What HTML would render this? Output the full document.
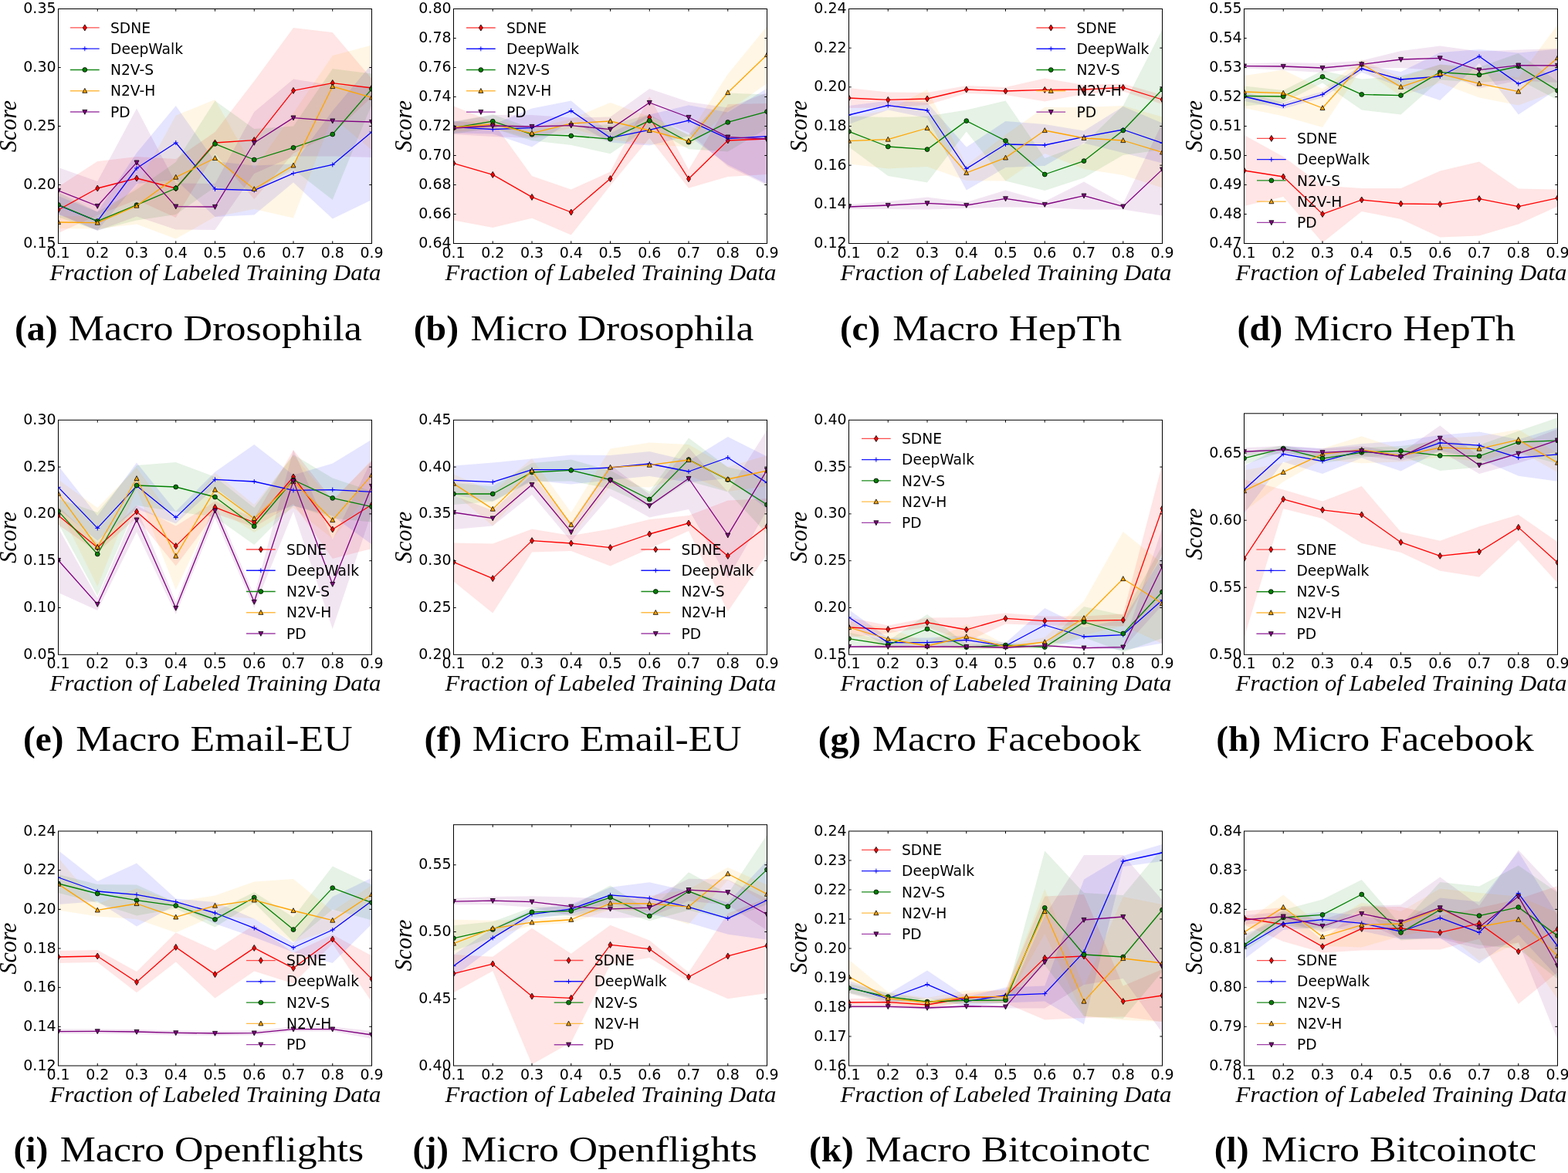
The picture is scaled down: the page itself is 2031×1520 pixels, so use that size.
<!DOCTYPE html><html><head><meta charset="utf-8"><style>
html,body{margin:0;padding:0;background:#fff;overflow:hidden}
svg{display:block}
.tl{font-family:"DejaVu Sans",sans-serif;font-size:19px;fill:#000}
.lg{font-family:"DejaVu Sans",sans-serif;font-size:18.7px;fill:#000}
.xl{font-family:"Liberation Serif",serif;font-style:italic;font-size:29.5px;fill:#000}
.yl{font-family:"Liberation Serif",serif;font-style:italic;font-size:32px;fill:#000}
.cap{font-family:"Liberation Serif",serif;font-size:45.5px;fill:#000}
.capb{font-family:"Liberation Serif",serif;font-weight:bold;font-size:45.5px;fill:#000}
</style></head><body><svg width="2031" height="1520" viewBox="0 0 2031 1520">
<rect width="2031" height="1520" fill="#fff"/>
<defs><clipPath id="c0"><rect x="75.50" y="11.50" width="406.00" height="304.00"/></clipPath><clipPath id="c1"><rect x="587.50" y="11.50" width="406.00" height="304.00"/></clipPath><clipPath id="c2"><rect x="1099.50" y="11.50" width="406.00" height="304.00"/></clipPath><clipPath id="c3"><rect x="1611.50" y="11.50" width="406.00" height="304.00"/></clipPath><clipPath id="c4"><rect x="75.50" y="544.30" width="406.00" height="304.00"/></clipPath><clipPath id="c5"><rect x="587.50" y="544.30" width="406.00" height="304.00"/></clipPath><clipPath id="c6"><rect x="1099.50" y="544.30" width="406.00" height="304.00"/></clipPath><clipPath id="c7"><rect x="1611.50" y="535.80" width="406.00" height="312.50"/></clipPath><clipPath id="c8"><rect x="75.50" y="1077.00" width="406.00" height="304.00"/></clipPath><clipPath id="c9"><rect x="587.50" y="1068.70" width="406.00" height="312.30"/></clipPath><clipPath id="c10"><rect x="1099.50" y="1077.00" width="406.00" height="304.00"/></clipPath><clipPath id="c11"><rect x="1611.50" y="1077.00" width="406.00" height="304.00"/></clipPath></defs>
<g clip-path="url(#c0)">
<polygon points="75.50,242.00 126.25,209.00 177.00,203.00 227.75,206.00 278.50,171.00 329.25,105.00 380.00,36.00 430.75,42.00 481.50,102.00 481.50,126.00 430.75,173.20 380.00,198.80 329.25,258.20 278.50,199.00 227.75,282.00 177.00,259.00 126.25,279.00 75.50,302.00" fill="#ff0000" fill-opacity="0.1"/>
<polygon points="75.50,254.00 126.25,274.60 177.00,198.00 227.75,137.00 278.50,209.00 329.25,214.60 380.00,212.60 430.75,143.40 481.50,83.00 481.50,259.00 430.75,283.40 380.00,236.60 329.25,278.60 278.50,281.00 227.75,233.00 177.00,238.00 126.25,298.60 75.50,278.00" fill="#0000ff" fill-opacity="0.1"/>
<polygon points="75.50,249.40 126.25,274.60 177.00,245.60 227.75,210.00 278.50,130.40 329.25,167.00 380.00,163.40 430.75,89.00 481.50,95.40 481.50,135.40 430.75,259.00 380.00,219.40 329.25,247.00 278.50,242.40 227.75,278.00 177.00,285.60 126.25,298.60 75.50,281.40" fill="#008000" fill-opacity="0.1"/>
<polygon points="75.50,280.00 126.25,280.60 177.00,242.60 227.75,149.60 278.50,129.00 329.25,219.00 380.00,146.40 430.75,72.00 481.50,58.40 481.50,194.40 430.75,152.00 380.00,282.40 329.25,271.00 278.50,281.00 227.75,309.60 177.00,290.60 126.25,296.60 75.50,296.00" fill="#ffa500" fill-opacity="0.1"/>
<polygon points="75.50,217.00 126.25,235.00 177.00,140.60 227.75,237.60 278.50,238.00 329.25,145.00 380.00,102.60 430.75,110.60 481.50,112.00 481.50,204.00 430.75,202.60 380.00,202.60 329.25,225.00 278.50,298.00 227.75,297.60 177.00,280.60 126.25,299.00 75.50,277.00" fill="#800080" fill-opacity="0.1"/>
<polyline points="75.50,272.00 126.25,244.00 177.00,231.00 227.75,244.00 278.50,185.00 329.25,181.60 380.00,117.40 430.75,107.60 481.50,114.00" fill="none" stroke="#ff0000" stroke-width="1.3" stroke-linejoin="round"/>
<path d="M75.50,268.00L78.00,272.00L75.50,276.00L73.00,272.00Z" fill="#ff0000" stroke="#000" stroke-width="0.8"/>
<path d="M126.25,240.00L128.75,244.00L126.25,248.00L123.75,244.00Z" fill="#ff0000" stroke="#000" stroke-width="0.8"/>
<path d="M177.00,227.00L179.50,231.00L177.00,235.00L174.50,231.00Z" fill="#ff0000" stroke="#000" stroke-width="0.8"/>
<path d="M227.75,240.00L230.25,244.00L227.75,248.00L225.25,244.00Z" fill="#ff0000" stroke="#000" stroke-width="0.8"/>
<path d="M278.50,181.00L281.00,185.00L278.50,189.00L276.00,185.00Z" fill="#ff0000" stroke="#000" stroke-width="0.8"/>
<path d="M329.25,177.60L331.75,181.60L329.25,185.60L326.75,181.60Z" fill="#ff0000" stroke="#000" stroke-width="0.8"/>
<path d="M380.00,113.40L382.50,117.40L380.00,121.40L377.50,117.40Z" fill="#ff0000" stroke="#000" stroke-width="0.8"/>
<path d="M430.75,103.60L433.25,107.60L430.75,111.60L428.25,107.60Z" fill="#ff0000" stroke="#000" stroke-width="0.8"/>
<path d="M481.50,110.00L484.00,114.00L481.50,118.00L479.00,114.00Z" fill="#ff0000" stroke="#000" stroke-width="0.8"/>
<polyline points="75.50,266.00 126.25,286.60 177.00,218.00 227.75,185.00 278.50,245.00 329.25,246.60 380.00,224.60 430.75,213.40 481.50,171.00" fill="none" stroke="#0000ff" stroke-width="1.3" stroke-linejoin="round"/>
<path d="M72.50,266.00H78.50M75.50,263.00V269.00" stroke="#0000ff" stroke-width="1" fill="none"/>
<path d="M123.25,286.60H129.25M126.25,283.60V289.60" stroke="#0000ff" stroke-width="1" fill="none"/>
<path d="M174.00,218.00H180.00M177.00,215.00V221.00" stroke="#0000ff" stroke-width="1" fill="none"/>
<path d="M224.75,185.00H230.75M227.75,182.00V188.00" stroke="#0000ff" stroke-width="1" fill="none"/>
<path d="M275.50,245.00H281.50M278.50,242.00V248.00" stroke="#0000ff" stroke-width="1" fill="none"/>
<path d="M326.25,246.60H332.25M329.25,243.60V249.60" stroke="#0000ff" stroke-width="1" fill="none"/>
<path d="M377.00,224.60H383.00M380.00,221.60V227.60" stroke="#0000ff" stroke-width="1" fill="none"/>
<path d="M427.75,213.40H433.75M430.75,210.40V216.40" stroke="#0000ff" stroke-width="1" fill="none"/>
<path d="M478.50,171.00H484.50M481.50,168.00V174.00" stroke="#0000ff" stroke-width="1" fill="none"/>
<polyline points="75.50,265.40 126.25,286.60 177.00,265.60 227.75,244.00 278.50,186.40 329.25,207.00 380.00,191.40 430.75,174.00 481.50,115.40" fill="none" stroke="#008000" stroke-width="1.3" stroke-linejoin="round"/>
<circle cx="75.50" cy="265.40" r="2.9" fill="#008000" stroke="#000" stroke-width="0.8"/>
<circle cx="126.25" cy="286.60" r="2.9" fill="#008000" stroke="#000" stroke-width="0.8"/>
<circle cx="177.00" cy="265.60" r="2.9" fill="#008000" stroke="#000" stroke-width="0.8"/>
<circle cx="227.75" cy="244.00" r="2.9" fill="#008000" stroke="#000" stroke-width="0.8"/>
<circle cx="278.50" cy="186.40" r="2.9" fill="#008000" stroke="#000" stroke-width="0.8"/>
<circle cx="329.25" cy="207.00" r="2.9" fill="#008000" stroke="#000" stroke-width="0.8"/>
<circle cx="380.00" cy="191.40" r="2.9" fill="#008000" stroke="#000" stroke-width="0.8"/>
<circle cx="430.75" cy="174.00" r="2.9" fill="#008000" stroke="#000" stroke-width="0.8"/>
<circle cx="481.50" cy="115.40" r="2.9" fill="#008000" stroke="#000" stroke-width="0.8"/>
<polyline points="75.50,288.00 126.25,288.60 177.00,266.60 227.75,229.60 278.50,205.00 329.25,245.00 380.00,214.40 430.75,112.00 481.50,126.40" fill="none" stroke="#ffa500" stroke-width="1.3" stroke-linejoin="round"/>
<path d="M75.50,284.70L78.50,290.60L72.50,290.60Z" fill="#ffa500" stroke="#000" stroke-width="0.8"/>
<path d="M126.25,285.30L129.25,291.20L123.25,291.20Z" fill="#ffa500" stroke="#000" stroke-width="0.8"/>
<path d="M177.00,263.30L180.00,269.20L174.00,269.20Z" fill="#ffa500" stroke="#000" stroke-width="0.8"/>
<path d="M227.75,226.30L230.75,232.20L224.75,232.20Z" fill="#ffa500" stroke="#000" stroke-width="0.8"/>
<path d="M278.50,201.70L281.50,207.60L275.50,207.60Z" fill="#ffa500" stroke="#000" stroke-width="0.8"/>
<path d="M329.25,241.70L332.25,247.60L326.25,247.60Z" fill="#ffa500" stroke="#000" stroke-width="0.8"/>
<path d="M380.00,211.10L383.00,217.00L377.00,217.00Z" fill="#ffa500" stroke="#000" stroke-width="0.8"/>
<path d="M430.75,108.70L433.75,114.60L427.75,114.60Z" fill="#ffa500" stroke="#000" stroke-width="0.8"/>
<path d="M481.50,123.10L484.50,129.00L478.50,129.00Z" fill="#ffa500" stroke="#000" stroke-width="0.8"/>
<polyline points="75.50,247.00 126.25,267.00 177.00,210.60 227.75,267.60 278.50,268.00 329.25,185.00 380.00,152.60 430.75,156.60 481.50,158.00" fill="none" stroke="#800080" stroke-width="1.3" stroke-linejoin="round"/>
<path d="M75.50,250.30L78.50,244.40L72.50,244.40Z" fill="#800080" stroke="#000" stroke-width="0.8"/>
<path d="M126.25,270.30L129.25,264.40L123.25,264.40Z" fill="#800080" stroke="#000" stroke-width="0.8"/>
<path d="M177.00,213.90L180.00,208.00L174.00,208.00Z" fill="#800080" stroke="#000" stroke-width="0.8"/>
<path d="M227.75,270.90L230.75,265.00L224.75,265.00Z" fill="#800080" stroke="#000" stroke-width="0.8"/>
<path d="M278.50,271.30L281.50,265.40L275.50,265.40Z" fill="#800080" stroke="#000" stroke-width="0.8"/>
<path d="M329.25,188.30L332.25,182.40L326.25,182.40Z" fill="#800080" stroke="#000" stroke-width="0.8"/>
<path d="M380.00,155.90L383.00,150.00L377.00,150.00Z" fill="#800080" stroke="#000" stroke-width="0.8"/>
<path d="M430.75,159.90L433.75,154.00L427.75,154.00Z" fill="#800080" stroke="#000" stroke-width="0.8"/>
<path d="M481.50,161.30L484.50,155.40L478.50,155.40Z" fill="#800080" stroke="#000" stroke-width="0.8"/>
</g>
<rect x="75.50" y="11.50" width="406.00" height="304.00" fill="none" stroke="#000" stroke-width="1"/>
<path d="M126.25,315.50v-3.2M126.25,11.50v3.2M177.00,315.50v-3.2M177.00,11.50v3.2M227.75,315.50v-3.2M227.75,11.50v3.2M278.50,315.50v-3.2M278.50,11.50v3.2M329.25,315.50v-3.2M329.25,11.50v3.2M380.00,315.50v-3.2M380.00,11.50v3.2M430.75,315.50v-3.2M430.75,11.50v3.2M75.50,239.50h3.2M481.50,239.50h-3.2M75.50,163.50h3.2M481.50,163.50h-3.2M75.50,87.50h3.2M481.50,87.50h-3.2" stroke="#000" stroke-width="1" fill="none"/>
<text x="72.60" y="321.00" class="tl" text-anchor="end">0.15</text>
<text x="72.60" y="245.00" class="tl" text-anchor="end">0.20</text>
<text x="72.60" y="169.00" class="tl" text-anchor="end">0.25</text>
<text x="72.60" y="93.00" class="tl" text-anchor="end">0.30</text>
<text x="72.60" y="17.00" class="tl" text-anchor="end">0.35</text>
<text x="75.50" y="333.50" class="tl" text-anchor="middle">0.1</text>
<text x="126.25" y="333.50" class="tl" text-anchor="middle">0.2</text>
<text x="177.00" y="333.50" class="tl" text-anchor="middle">0.3</text>
<text x="227.75" y="333.50" class="tl" text-anchor="middle">0.4</text>
<text x="278.50" y="333.50" class="tl" text-anchor="middle">0.5</text>
<text x="329.25" y="333.50" class="tl" text-anchor="middle">0.6</text>
<text x="380.00" y="333.50" class="tl" text-anchor="middle">0.7</text>
<text x="430.75" y="333.50" class="tl" text-anchor="middle">0.8</text>
<text x="481.50" y="333.50" class="tl" text-anchor="middle">0.9</text>
<text x="64.60" y="362.50" class="xl" textLength="428.9" lengthAdjust="spacingAndGlyphs">Fraction of Labeled Training Data</text>
<text transform="translate(20.50,163.50) rotate(-90)" class="yl" text-anchor="middle" textLength="67" lengthAdjust="spacingAndGlyphs">Score</text>
<path d="M91.00,35.90h37.7" stroke="#ff4d4d" stroke-width="1.4" fill="none"/>
<path d="M109.85,31.90L112.35,35.90L109.85,39.90L107.35,35.90Z" fill="#ff0000" stroke="#000" stroke-width="0.8"/>
<text x="143.00" y="42.50" class="lg">SDNE</text>
<path d="M91.00,63.17h37.7" stroke="#1a1aff" stroke-width="1.4" fill="none"/>
<path d="M106.85,63.17H112.85M109.85,60.17V66.17" stroke="#0000ff" stroke-width="1" fill="none"/>
<text x="143.00" y="69.77" class="lg">DeepWalk</text>
<path d="M91.00,90.44h37.7" stroke="#1a8a1a" stroke-width="1.4" fill="none"/>
<circle cx="109.85" cy="90.44" r="2.9" fill="#008000" stroke="#000" stroke-width="0.8"/>
<text x="143.00" y="97.04" class="lg">N2V-S</text>
<path d="M91.00,117.71h37.7" stroke="#ffbb44" stroke-width="1.4" fill="none"/>
<path d="M109.85,114.41L112.85,120.31L106.85,120.31Z" fill="#ffa500" stroke="#000" stroke-width="0.8"/>
<text x="143.00" y="124.31" class="lg">N2V-H</text>
<path d="M91.00,144.98h37.7" stroke="#a040a8" stroke-width="1.4" fill="none"/>
<path d="M109.85,148.28L112.85,142.38L106.85,142.38Z" fill="#800080" stroke="#000" stroke-width="0.8"/>
<text x="143.00" y="151.58" class="lg">PD</text>
<text x="18.94" y="441.00" class="capb" textLength="55.81" lengthAdjust="spacingAndGlyphs">(a)</text>
<text x="88.79" y="441.00" class="cap" textLength="380.02" lengthAdjust="spacingAndGlyphs">Macro Drosophila</text>
<g clip-path="url(#c1)">
<polygon points="587.50,137.60 638.25,157.80 689.00,228.00 739.75,245.40 790.50,222.60 841.25,125.00 892.00,219.80 942.75,135.00 993.50,134.00 993.50,226.00 942.75,229.00 892.00,243.80 841.25,179.00 790.50,240.60 739.75,304.60 689.00,282.80 638.25,295.00 587.50,285.60" fill="#ff0000" fill-opacity="0.1"/>
<polygon points="587.50,156.60 638.25,161.60 689.00,140.60 739.75,130.60 790.50,172.60 841.25,148.40 892.00,136.20 942.75,145.60 993.50,114.60 993.50,238.60 942.75,213.60 892.00,176.20 841.25,188.40 790.50,184.60 739.75,156.60 689.00,190.60 638.25,173.60 587.50,172.60" fill="#0000ff" fill-opacity="0.1"/>
<polygon points="587.50,157.60 638.25,148.20 689.00,166.20 739.75,164.00 790.50,161.20 841.25,148.40 892.00,175.20 942.75,120.40 993.50,122.60 993.50,166.60 942.75,196.40 892.00,193.20 841.25,164.40 790.50,199.20 739.75,188.00 689.00,182.20 638.25,166.20 587.50,173.60" fill="#008000" fill-opacity="0.1"/>
<polygon points="587.50,159.00 638.25,155.00 689.00,166.60 739.75,154.00 790.50,133.00 841.25,151.00 892.00,174.60 942.75,96.00 993.50,34.00 993.50,108.00 942.75,144.00 892.00,190.60 841.25,187.00 790.50,181.00 739.75,166.00 689.00,178.60 638.25,167.00 587.50,171.00" fill="#ffa500" fill-opacity="0.1"/>
<polygon points="587.50,158.00 638.25,149.00 689.00,149.00 739.75,152.60 790.50,151.60 841.25,115.00 892.00,132.00 942.75,139.60 993.50,120.00 993.50,240.00 942.75,215.60 892.00,172.00 841.25,151.00 790.50,183.60 739.75,172.60 689.00,179.00 638.25,177.00 587.50,174.00" fill="#800080" fill-opacity="0.1"/>
<polyline points="587.50,211.60 638.25,226.40 689.00,255.40 739.75,275.00 790.50,231.60 841.25,152.00 892.00,231.80 942.75,182.00 993.50,180.00" fill="none" stroke="#ff0000" stroke-width="1.3" stroke-linejoin="round"/>
<path d="M587.50,207.60L590.00,211.60L587.50,215.60L585.00,211.60Z" fill="#ff0000" stroke="#000" stroke-width="0.8"/>
<path d="M638.25,222.40L640.75,226.40L638.25,230.40L635.75,226.40Z" fill="#ff0000" stroke="#000" stroke-width="0.8"/>
<path d="M689.00,251.40L691.50,255.40L689.00,259.40L686.50,255.40Z" fill="#ff0000" stroke="#000" stroke-width="0.8"/>
<path d="M739.75,271.00L742.25,275.00L739.75,279.00L737.25,275.00Z" fill="#ff0000" stroke="#000" stroke-width="0.8"/>
<path d="M790.50,227.60L793.00,231.60L790.50,235.60L788.00,231.60Z" fill="#ff0000" stroke="#000" stroke-width="0.8"/>
<path d="M841.25,148.00L843.75,152.00L841.25,156.00L838.75,152.00Z" fill="#ff0000" stroke="#000" stroke-width="0.8"/>
<path d="M892.00,227.80L894.50,231.80L892.00,235.80L889.50,231.80Z" fill="#ff0000" stroke="#000" stroke-width="0.8"/>
<path d="M942.75,178.00L945.25,182.00L942.75,186.00L940.25,182.00Z" fill="#ff0000" stroke="#000" stroke-width="0.8"/>
<path d="M993.50,176.00L996.00,180.00L993.50,184.00L991.00,180.00Z" fill="#ff0000" stroke="#000" stroke-width="0.8"/>
<polyline points="587.50,164.60 638.25,167.60 689.00,165.60 739.75,143.60 790.50,178.60 841.25,168.40 892.00,156.20 942.75,179.60 993.50,176.60" fill="none" stroke="#0000ff" stroke-width="1.3" stroke-linejoin="round"/>
<path d="M584.50,164.60H590.50M587.50,161.60V167.60" stroke="#0000ff" stroke-width="1" fill="none"/>
<path d="M635.25,167.60H641.25M638.25,164.60V170.60" stroke="#0000ff" stroke-width="1" fill="none"/>
<path d="M686.00,165.60H692.00M689.00,162.60V168.60" stroke="#0000ff" stroke-width="1" fill="none"/>
<path d="M736.75,143.60H742.75M739.75,140.60V146.60" stroke="#0000ff" stroke-width="1" fill="none"/>
<path d="M787.50,178.60H793.50M790.50,175.60V181.60" stroke="#0000ff" stroke-width="1" fill="none"/>
<path d="M838.25,168.40H844.25M841.25,165.40V171.40" stroke="#0000ff" stroke-width="1" fill="none"/>
<path d="M889.00,156.20H895.00M892.00,153.20V159.20" stroke="#0000ff" stroke-width="1" fill="none"/>
<path d="M939.75,179.60H945.75M942.75,176.60V182.60" stroke="#0000ff" stroke-width="1" fill="none"/>
<path d="M990.50,176.60H996.50M993.50,173.60V179.60" stroke="#0000ff" stroke-width="1" fill="none"/>
<polyline points="587.50,165.60 638.25,157.20 689.00,174.20 739.75,176.00 790.50,180.20 841.25,156.40 892.00,184.20 942.75,158.40 993.50,144.60" fill="none" stroke="#008000" stroke-width="1.3" stroke-linejoin="round"/>
<circle cx="587.50" cy="165.60" r="2.9" fill="#008000" stroke="#000" stroke-width="0.8"/>
<circle cx="638.25" cy="157.20" r="2.9" fill="#008000" stroke="#000" stroke-width="0.8"/>
<circle cx="689.00" cy="174.20" r="2.9" fill="#008000" stroke="#000" stroke-width="0.8"/>
<circle cx="739.75" cy="176.00" r="2.9" fill="#008000" stroke="#000" stroke-width="0.8"/>
<circle cx="790.50" cy="180.20" r="2.9" fill="#008000" stroke="#000" stroke-width="0.8"/>
<circle cx="841.25" cy="156.40" r="2.9" fill="#008000" stroke="#000" stroke-width="0.8"/>
<circle cx="892.00" cy="184.20" r="2.9" fill="#008000" stroke="#000" stroke-width="0.8"/>
<circle cx="942.75" cy="158.40" r="2.9" fill="#008000" stroke="#000" stroke-width="0.8"/>
<circle cx="993.50" cy="144.60" r="2.9" fill="#008000" stroke="#000" stroke-width="0.8"/>
<polyline points="587.50,165.00 638.25,161.00 689.00,172.60 739.75,160.00 790.50,157.00 841.25,169.00 892.00,182.60 942.75,120.00 993.50,71.00" fill="none" stroke="#ffa500" stroke-width="1.3" stroke-linejoin="round"/>
<path d="M587.50,161.70L590.50,167.60L584.50,167.60Z" fill="#ffa500" stroke="#000" stroke-width="0.8"/>
<path d="M638.25,157.70L641.25,163.60L635.25,163.60Z" fill="#ffa500" stroke="#000" stroke-width="0.8"/>
<path d="M689.00,169.30L692.00,175.20L686.00,175.20Z" fill="#ffa500" stroke="#000" stroke-width="0.8"/>
<path d="M739.75,156.70L742.75,162.60L736.75,162.60Z" fill="#ffa500" stroke="#000" stroke-width="0.8"/>
<path d="M790.50,153.70L793.50,159.60L787.50,159.60Z" fill="#ffa500" stroke="#000" stroke-width="0.8"/>
<path d="M841.25,165.70L844.25,171.60L838.25,171.60Z" fill="#ffa500" stroke="#000" stroke-width="0.8"/>
<path d="M892.00,179.30L895.00,185.20L889.00,185.20Z" fill="#ffa500" stroke="#000" stroke-width="0.8"/>
<path d="M942.75,116.70L945.75,122.60L939.75,122.60Z" fill="#ffa500" stroke="#000" stroke-width="0.8"/>
<path d="M993.50,67.70L996.50,73.60L990.50,73.60Z" fill="#ffa500" stroke="#000" stroke-width="0.8"/>
<polyline points="587.50,166.00 638.25,163.00 689.00,164.00 739.75,162.60 790.50,167.60 841.25,133.00 892.00,152.00 942.75,177.60 993.50,180.00" fill="none" stroke="#800080" stroke-width="1.3" stroke-linejoin="round"/>
<path d="M587.50,169.30L590.50,163.40L584.50,163.40Z" fill="#800080" stroke="#000" stroke-width="0.8"/>
<path d="M638.25,166.30L641.25,160.40L635.25,160.40Z" fill="#800080" stroke="#000" stroke-width="0.8"/>
<path d="M689.00,167.30L692.00,161.40L686.00,161.40Z" fill="#800080" stroke="#000" stroke-width="0.8"/>
<path d="M739.75,165.90L742.75,160.00L736.75,160.00Z" fill="#800080" stroke="#000" stroke-width="0.8"/>
<path d="M790.50,170.90L793.50,165.00L787.50,165.00Z" fill="#800080" stroke="#000" stroke-width="0.8"/>
<path d="M841.25,136.30L844.25,130.40L838.25,130.40Z" fill="#800080" stroke="#000" stroke-width="0.8"/>
<path d="M892.00,155.30L895.00,149.40L889.00,149.40Z" fill="#800080" stroke="#000" stroke-width="0.8"/>
<path d="M942.75,180.90L945.75,175.00L939.75,175.00Z" fill="#800080" stroke="#000" stroke-width="0.8"/>
<path d="M993.50,183.30L996.50,177.40L990.50,177.40Z" fill="#800080" stroke="#000" stroke-width="0.8"/>
</g>
<rect x="587.50" y="11.50" width="406.00" height="304.00" fill="none" stroke="#000" stroke-width="1"/>
<path d="M638.25,315.50v-3.2M638.25,11.50v3.2M689.00,315.50v-3.2M689.00,11.50v3.2M739.75,315.50v-3.2M739.75,11.50v3.2M790.50,315.50v-3.2M790.50,11.50v3.2M841.25,315.50v-3.2M841.25,11.50v3.2M892.00,315.50v-3.2M892.00,11.50v3.2M942.75,315.50v-3.2M942.75,11.50v3.2M587.50,277.50h3.2M993.50,277.50h-3.2M587.50,239.50h3.2M993.50,239.50h-3.2M587.50,201.50h3.2M993.50,201.50h-3.2M587.50,163.50h3.2M993.50,163.50h-3.2M587.50,125.50h3.2M993.50,125.50h-3.2M587.50,87.50h3.2M993.50,87.50h-3.2M587.50,49.50h3.2M993.50,49.50h-3.2" stroke="#000" stroke-width="1" fill="none"/>
<text x="584.60" y="321.00" class="tl" text-anchor="end">0.64</text>
<text x="584.60" y="283.00" class="tl" text-anchor="end">0.66</text>
<text x="584.60" y="245.00" class="tl" text-anchor="end">0.68</text>
<text x="584.60" y="207.00" class="tl" text-anchor="end">0.70</text>
<text x="584.60" y="169.00" class="tl" text-anchor="end">0.72</text>
<text x="584.60" y="131.00" class="tl" text-anchor="end">0.74</text>
<text x="584.60" y="93.00" class="tl" text-anchor="end">0.76</text>
<text x="584.60" y="55.00" class="tl" text-anchor="end">0.78</text>
<text x="584.60" y="17.00" class="tl" text-anchor="end">0.80</text>
<text x="587.50" y="333.50" class="tl" text-anchor="middle">0.1</text>
<text x="638.25" y="333.50" class="tl" text-anchor="middle">0.2</text>
<text x="689.00" y="333.50" class="tl" text-anchor="middle">0.3</text>
<text x="739.75" y="333.50" class="tl" text-anchor="middle">0.4</text>
<text x="790.50" y="333.50" class="tl" text-anchor="middle">0.5</text>
<text x="841.25" y="333.50" class="tl" text-anchor="middle">0.6</text>
<text x="892.00" y="333.50" class="tl" text-anchor="middle">0.7</text>
<text x="942.75" y="333.50" class="tl" text-anchor="middle">0.8</text>
<text x="993.50" y="333.50" class="tl" text-anchor="middle">0.9</text>
<text x="576.60" y="362.50" class="xl" textLength="428.9" lengthAdjust="spacingAndGlyphs">Fraction of Labeled Training Data</text>
<text transform="translate(532.50,163.50) rotate(-90)" class="yl" text-anchor="middle" textLength="67" lengthAdjust="spacingAndGlyphs">Score</text>
<path d="M604.00,36.00h37.7" stroke="#ff4d4d" stroke-width="1.4" fill="none"/>
<path d="M622.85,32.00L625.35,36.00L622.85,40.00L620.35,36.00Z" fill="#ff0000" stroke="#000" stroke-width="0.8"/>
<text x="656.00" y="42.60" class="lg">SDNE</text>
<path d="M604.00,63.27h37.7" stroke="#1a1aff" stroke-width="1.4" fill="none"/>
<path d="M619.85,63.27H625.85M622.85,60.27V66.27" stroke="#0000ff" stroke-width="1" fill="none"/>
<text x="656.00" y="69.87" class="lg">DeepWalk</text>
<path d="M604.00,90.54h37.7" stroke="#1a8a1a" stroke-width="1.4" fill="none"/>
<circle cx="622.85" cy="90.54" r="2.9" fill="#008000" stroke="#000" stroke-width="0.8"/>
<text x="656.00" y="97.14" class="lg">N2V-S</text>
<path d="M604.00,117.81h37.7" stroke="#ffbb44" stroke-width="1.4" fill="none"/>
<path d="M622.85,114.51L625.85,120.41L619.85,120.41Z" fill="#ffa500" stroke="#000" stroke-width="0.8"/>
<text x="656.00" y="124.41" class="lg">N2V-H</text>
<path d="M604.00,145.08h37.7" stroke="#a040a8" stroke-width="1.4" fill="none"/>
<path d="M622.85,148.38L625.85,142.48L619.85,142.48Z" fill="#800080" stroke="#000" stroke-width="0.8"/>
<text x="656.00" y="151.68" class="lg">PD</text>
<text x="535.71" y="441.00" class="capb" textLength="58.34" lengthAdjust="spacingAndGlyphs">(b)</text>
<text x="609.49" y="441.00" class="cap" textLength="366.81" lengthAdjust="spacingAndGlyphs">Micro Drosophila</text>
<g clip-path="url(#c2)">
<polygon points="1099.50,114.00 1150.25,119.40 1201.00,120.00 1251.75,111.00 1302.50,113.00 1353.25,101.40 1404.00,110.00 1454.75,108.40 1505.50,123.00 1505.50,135.00 1454.75,118.40 1404.00,122.00 1353.25,131.40 1302.50,123.00 1251.75,121.00 1201.00,136.00 1150.25,139.40 1099.50,140.00" fill="#ff0000" fill-opacity="0.1"/>
<polygon points="1099.50,137.00 1150.25,130.60 1201.00,133.00 1251.75,190.60 1302.50,157.00 1353.25,161.00 1404.00,169.40 1454.75,138.00 1505.50,159.40 1505.50,211.40 1454.75,198.00 1404.00,185.40 1353.25,215.00 1302.50,217.00 1251.75,246.60 1201.00,153.00 1150.25,142.60 1099.50,161.00" fill="#0000ff" fill-opacity="0.1"/>
<polygon points="1099.50,150.40 1150.25,152.00 1201.00,150.60 1251.75,142.60 1302.50,130.40 1353.25,205.00 1404.00,186.60 1454.75,137.00 1505.50,38.00 1505.50,194.00 1454.75,201.00 1404.00,230.60 1353.25,247.00 1302.50,234.40 1251.75,170.60 1201.00,236.60 1150.25,228.00 1099.50,190.40" fill="#008000" fill-opacity="0.1"/>
<polygon points="1099.50,152.60 1150.25,142.60 1201.00,116.00 1251.75,214.00 1302.50,174.40 1353.25,139.00 1404.00,139.00 1454.75,137.00 1505.50,151.40 1505.50,243.40 1454.75,227.00 1404.00,219.00 1353.25,199.00 1302.50,234.40 1251.75,234.00 1201.00,216.00 1150.25,218.60 1099.50,212.60" fill="#ffa500" fill-opacity="0.1"/>
<polygon points="1099.50,265.00 1150.25,261.00 1201.00,255.40 1251.75,262.00 1302.50,246.40 1353.25,261.00 1404.00,235.60 1454.75,263.60 1505.50,159.60 1505.50,279.60 1454.75,271.60 1404.00,271.60 1353.25,269.00 1302.50,268.40 1251.75,270.00 1201.00,271.40 1150.25,271.00 1099.50,271.00" fill="#800080" fill-opacity="0.1"/>
<polyline points="1099.50,127.00 1150.25,129.40 1201.00,128.00 1251.75,116.00 1302.50,118.00 1353.25,116.40 1404.00,116.00 1454.75,113.40 1505.50,129.00" fill="none" stroke="#ff0000" stroke-width="1.3" stroke-linejoin="round"/>
<path d="M1099.50,123.00L1102.00,127.00L1099.50,131.00L1097.00,127.00Z" fill="#ff0000" stroke="#000" stroke-width="0.8"/>
<path d="M1150.25,125.40L1152.75,129.40L1150.25,133.40L1147.75,129.40Z" fill="#ff0000" stroke="#000" stroke-width="0.8"/>
<path d="M1201.00,124.00L1203.50,128.00L1201.00,132.00L1198.50,128.00Z" fill="#ff0000" stroke="#000" stroke-width="0.8"/>
<path d="M1251.75,112.00L1254.25,116.00L1251.75,120.00L1249.25,116.00Z" fill="#ff0000" stroke="#000" stroke-width="0.8"/>
<path d="M1302.50,114.00L1305.00,118.00L1302.50,122.00L1300.00,118.00Z" fill="#ff0000" stroke="#000" stroke-width="0.8"/>
<path d="M1353.25,112.40L1355.75,116.40L1353.25,120.40L1350.75,116.40Z" fill="#ff0000" stroke="#000" stroke-width="0.8"/>
<path d="M1404.00,112.00L1406.50,116.00L1404.00,120.00L1401.50,116.00Z" fill="#ff0000" stroke="#000" stroke-width="0.8"/>
<path d="M1454.75,109.40L1457.25,113.40L1454.75,117.40L1452.25,113.40Z" fill="#ff0000" stroke="#000" stroke-width="0.8"/>
<path d="M1505.50,125.00L1508.00,129.00L1505.50,133.00L1503.00,129.00Z" fill="#ff0000" stroke="#000" stroke-width="0.8"/>
<polyline points="1099.50,149.00 1150.25,136.60 1201.00,143.00 1251.75,218.60 1302.50,187.00 1353.25,188.00 1404.00,177.40 1454.75,168.00 1505.50,185.40" fill="none" stroke="#0000ff" stroke-width="1.3" stroke-linejoin="round"/>
<path d="M1096.50,149.00H1102.50M1099.50,146.00V152.00" stroke="#0000ff" stroke-width="1" fill="none"/>
<path d="M1147.25,136.60H1153.25M1150.25,133.60V139.60" stroke="#0000ff" stroke-width="1" fill="none"/>
<path d="M1198.00,143.00H1204.00M1201.00,140.00V146.00" stroke="#0000ff" stroke-width="1" fill="none"/>
<path d="M1248.75,218.60H1254.75M1251.75,215.60V221.60" stroke="#0000ff" stroke-width="1" fill="none"/>
<path d="M1299.50,187.00H1305.50M1302.50,184.00V190.00" stroke="#0000ff" stroke-width="1" fill="none"/>
<path d="M1350.25,188.00H1356.25M1353.25,185.00V191.00" stroke="#0000ff" stroke-width="1" fill="none"/>
<path d="M1401.00,177.40H1407.00M1404.00,174.40V180.40" stroke="#0000ff" stroke-width="1" fill="none"/>
<path d="M1451.75,168.00H1457.75M1454.75,165.00V171.00" stroke="#0000ff" stroke-width="1" fill="none"/>
<path d="M1502.50,185.40H1508.50M1505.50,182.40V188.40" stroke="#0000ff" stroke-width="1" fill="none"/>
<polyline points="1099.50,170.40 1150.25,190.00 1201.00,193.60 1251.75,156.60 1302.50,182.40 1353.25,226.00 1404.00,208.60 1454.75,169.00 1505.50,116.00" fill="none" stroke="#008000" stroke-width="1.3" stroke-linejoin="round"/>
<circle cx="1099.50" cy="170.40" r="2.9" fill="#008000" stroke="#000" stroke-width="0.8"/>
<circle cx="1150.25" cy="190.00" r="2.9" fill="#008000" stroke="#000" stroke-width="0.8"/>
<circle cx="1201.00" cy="193.60" r="2.9" fill="#008000" stroke="#000" stroke-width="0.8"/>
<circle cx="1251.75" cy="156.60" r="2.9" fill="#008000" stroke="#000" stroke-width="0.8"/>
<circle cx="1302.50" cy="182.40" r="2.9" fill="#008000" stroke="#000" stroke-width="0.8"/>
<circle cx="1353.25" cy="226.00" r="2.9" fill="#008000" stroke="#000" stroke-width="0.8"/>
<circle cx="1404.00" cy="208.60" r="2.9" fill="#008000" stroke="#000" stroke-width="0.8"/>
<circle cx="1454.75" cy="169.00" r="2.9" fill="#008000" stroke="#000" stroke-width="0.8"/>
<circle cx="1505.50" cy="116.00" r="2.9" fill="#008000" stroke="#000" stroke-width="0.8"/>
<polyline points="1099.50,182.60 1150.25,180.60 1201.00,166.00 1251.75,224.00 1302.50,204.40 1353.25,169.00 1404.00,179.00 1454.75,182.00 1505.50,197.40" fill="none" stroke="#ffa500" stroke-width="1.3" stroke-linejoin="round"/>
<path d="M1099.50,179.30L1102.50,185.20L1096.50,185.20Z" fill="#ffa500" stroke="#000" stroke-width="0.8"/>
<path d="M1150.25,177.30L1153.25,183.20L1147.25,183.20Z" fill="#ffa500" stroke="#000" stroke-width="0.8"/>
<path d="M1201.00,162.70L1204.00,168.60L1198.00,168.60Z" fill="#ffa500" stroke="#000" stroke-width="0.8"/>
<path d="M1251.75,220.70L1254.75,226.60L1248.75,226.60Z" fill="#ffa500" stroke="#000" stroke-width="0.8"/>
<path d="M1302.50,201.10L1305.50,207.00L1299.50,207.00Z" fill="#ffa500" stroke="#000" stroke-width="0.8"/>
<path d="M1353.25,165.70L1356.25,171.60L1350.25,171.60Z" fill="#ffa500" stroke="#000" stroke-width="0.8"/>
<path d="M1404.00,175.70L1407.00,181.60L1401.00,181.60Z" fill="#ffa500" stroke="#000" stroke-width="0.8"/>
<path d="M1454.75,178.70L1457.75,184.60L1451.75,184.60Z" fill="#ffa500" stroke="#000" stroke-width="0.8"/>
<path d="M1505.50,194.10L1508.50,200.00L1502.50,200.00Z" fill="#ffa500" stroke="#000" stroke-width="0.8"/>
<polyline points="1099.50,268.00 1150.25,266.00 1201.00,263.40 1251.75,266.00 1302.50,257.40 1353.25,265.00 1404.00,253.60 1454.75,267.60 1505.50,219.60" fill="none" stroke="#800080" stroke-width="1.3" stroke-linejoin="round"/>
<path d="M1099.50,271.30L1102.50,265.40L1096.50,265.40Z" fill="#800080" stroke="#000" stroke-width="0.8"/>
<path d="M1150.25,269.30L1153.25,263.40L1147.25,263.40Z" fill="#800080" stroke="#000" stroke-width="0.8"/>
<path d="M1201.00,266.70L1204.00,260.80L1198.00,260.80Z" fill="#800080" stroke="#000" stroke-width="0.8"/>
<path d="M1251.75,269.30L1254.75,263.40L1248.75,263.40Z" fill="#800080" stroke="#000" stroke-width="0.8"/>
<path d="M1302.50,260.70L1305.50,254.80L1299.50,254.80Z" fill="#800080" stroke="#000" stroke-width="0.8"/>
<path d="M1353.25,268.30L1356.25,262.40L1350.25,262.40Z" fill="#800080" stroke="#000" stroke-width="0.8"/>
<path d="M1404.00,256.90L1407.00,251.00L1401.00,251.00Z" fill="#800080" stroke="#000" stroke-width="0.8"/>
<path d="M1454.75,270.90L1457.75,265.00L1451.75,265.00Z" fill="#800080" stroke="#000" stroke-width="0.8"/>
<path d="M1505.50,222.90L1508.50,217.00L1502.50,217.00Z" fill="#800080" stroke="#000" stroke-width="0.8"/>
</g>
<rect x="1099.50" y="11.50" width="406.00" height="304.00" fill="none" stroke="#000" stroke-width="1"/>
<path d="M1150.25,315.50v-3.2M1150.25,11.50v3.2M1201.00,315.50v-3.2M1201.00,11.50v3.2M1251.75,315.50v-3.2M1251.75,11.50v3.2M1302.50,315.50v-3.2M1302.50,11.50v3.2M1353.25,315.50v-3.2M1353.25,11.50v3.2M1404.00,315.50v-3.2M1404.00,11.50v3.2M1454.75,315.50v-3.2M1454.75,11.50v3.2M1099.50,264.83h3.2M1505.50,264.83h-3.2M1099.50,214.17h3.2M1505.50,214.17h-3.2M1099.50,163.50h3.2M1505.50,163.50h-3.2M1099.50,112.83h3.2M1505.50,112.83h-3.2M1099.50,62.17h3.2M1505.50,62.17h-3.2" stroke="#000" stroke-width="1" fill="none"/>
<text x="1096.60" y="321.00" class="tl" text-anchor="end">0.12</text>
<text x="1096.60" y="270.33" class="tl" text-anchor="end">0.14</text>
<text x="1096.60" y="219.67" class="tl" text-anchor="end">0.16</text>
<text x="1096.60" y="169.00" class="tl" text-anchor="end">0.18</text>
<text x="1096.60" y="118.33" class="tl" text-anchor="end">0.20</text>
<text x="1096.60" y="67.67" class="tl" text-anchor="end">0.22</text>
<text x="1096.60" y="17.00" class="tl" text-anchor="end">0.24</text>
<text x="1099.50" y="333.50" class="tl" text-anchor="middle">0.1</text>
<text x="1150.25" y="333.50" class="tl" text-anchor="middle">0.2</text>
<text x="1201.00" y="333.50" class="tl" text-anchor="middle">0.3</text>
<text x="1251.75" y="333.50" class="tl" text-anchor="middle">0.4</text>
<text x="1302.50" y="333.50" class="tl" text-anchor="middle">0.5</text>
<text x="1353.25" y="333.50" class="tl" text-anchor="middle">0.6</text>
<text x="1404.00" y="333.50" class="tl" text-anchor="middle">0.7</text>
<text x="1454.75" y="333.50" class="tl" text-anchor="middle">0.8</text>
<text x="1505.50" y="333.50" class="tl" text-anchor="middle">0.9</text>
<text x="1088.60" y="362.50" class="xl" textLength="428.9" lengthAdjust="spacingAndGlyphs">Fraction of Labeled Training Data</text>
<text transform="translate(1044.50,163.50) rotate(-90)" class="yl" text-anchor="middle" textLength="67" lengthAdjust="spacingAndGlyphs">Score</text>
<path d="M1342.40,36.00h37.7" stroke="#ff4d4d" stroke-width="1.4" fill="none"/>
<path d="M1361.25,32.00L1363.75,36.00L1361.25,40.00L1358.75,36.00Z" fill="#ff0000" stroke="#000" stroke-width="0.8"/>
<text x="1394.40" y="42.60" class="lg">SDNE</text>
<path d="M1342.40,63.27h37.7" stroke="#1a1aff" stroke-width="1.4" fill="none"/>
<path d="M1358.25,63.27H1364.25M1361.25,60.27V66.27" stroke="#0000ff" stroke-width="1" fill="none"/>
<text x="1394.40" y="69.87" class="lg">DeepWalk</text>
<path d="M1342.40,90.54h37.7" stroke="#1a8a1a" stroke-width="1.4" fill="none"/>
<circle cx="1361.25" cy="90.54" r="2.9" fill="#008000" stroke="#000" stroke-width="0.8"/>
<text x="1394.40" y="97.14" class="lg">N2V-S</text>
<path d="M1342.40,117.81h37.7" stroke="#ffbb44" stroke-width="1.4" fill="none"/>
<path d="M1361.25,114.51L1364.25,120.41L1358.25,120.41Z" fill="#ffa500" stroke="#000" stroke-width="0.8"/>
<text x="1394.40" y="124.41" class="lg">N2V-H</text>
<path d="M1342.40,145.08h37.7" stroke="#a040a8" stroke-width="1.4" fill="none"/>
<path d="M1361.25,148.38L1364.25,142.48L1358.25,142.48Z" fill="#800080" stroke="#000" stroke-width="0.8"/>
<text x="1394.40" y="151.68" class="lg">PD</text>
<text x="1087.92" y="441.00" class="capb" textLength="52.27" lengthAdjust="spacingAndGlyphs">(c)</text>
<text x="1156.19" y="441.00" class="cap" textLength="296.82" lengthAdjust="spacingAndGlyphs">Macro HepTh</text>
<g clip-path="url(#c3)">
<polygon points="1611.50,175.00 1662.25,203.00 1713.00,240.40 1763.75,244.00 1814.50,244.00 1865.25,221.60 1916.00,209.60 1966.75,244.60 2017.50,245.60 2017.50,267.60 1966.75,290.60 1916.00,305.60 1865.25,307.60 1814.50,284.00 1763.75,274.00 1713.00,314.40 1662.25,255.00 1611.50,267.00" fill="#ff0000" fill-opacity="0.1"/>
<polygon points="1611.50,119.00 1662.25,133.00 1713.00,118.40 1763.75,84.00 1814.50,93.00 1865.25,68.00 1916.00,64.00 1966.75,68.60 2017.50,63.60 2017.50,115.60 1966.75,148.60 1916.00,82.00 1865.25,130.00 1814.50,113.00 1763.75,94.00 1713.00,126.40 1662.25,141.00 1611.50,131.00" fill="#0000ff" fill-opacity="0.1"/>
<polygon points="1611.50,111.40 1662.25,117.00 1713.00,91.40 1763.75,102.40 1814.50,98.60 1865.25,83.60 1916.00,87.00 1966.75,69.00 2017.50,105.40 2017.50,129.40 1966.75,103.00 1916.00,107.00 1865.25,103.60 1814.50,148.60 1763.75,142.40 1713.00,107.40 1662.25,133.00 1611.50,137.40" fill="#008000" fill-opacity="0.1"/>
<polygon points="1611.50,98.00 1662.25,90.60 1713.00,115.00 1763.75,77.00 1814.50,100.60 1865.25,83.60 1916.00,90.40 1966.75,100.60 2017.50,32.00 2017.50,118.00 1966.75,136.60 1916.00,126.40 1865.25,107.60 1814.50,124.60 1763.75,89.00 1713.00,165.00 1662.25,150.60 1611.50,140.00" fill="#ffa500" fill-opacity="0.1"/>
<polygon points="1611.50,82.60 1662.25,81.00 1713.00,82.00 1763.75,78.40 1814.50,66.00 1865.25,59.40 1916.00,66.60 1966.75,64.60 2017.50,63.00 2017.50,107.00 1966.75,104.60 1916.00,114.60 1865.25,91.40 1814.50,88.00 1763.75,88.40 1713.00,94.00 1662.25,91.00 1611.50,88.60" fill="#800080" fill-opacity="0.1"/>
<polyline points="1611.50,221.00 1662.25,229.00 1713.00,277.40 1763.75,259.00 1814.50,264.00 1865.25,264.60 1916.00,257.60 1966.75,267.60 2017.50,256.60" fill="none" stroke="#ff0000" stroke-width="1.3" stroke-linejoin="round"/>
<path d="M1611.50,217.00L1614.00,221.00L1611.50,225.00L1609.00,221.00Z" fill="#ff0000" stroke="#000" stroke-width="0.8"/>
<path d="M1662.25,225.00L1664.75,229.00L1662.25,233.00L1659.75,229.00Z" fill="#ff0000" stroke="#000" stroke-width="0.8"/>
<path d="M1713.00,273.40L1715.50,277.40L1713.00,281.40L1710.50,277.40Z" fill="#ff0000" stroke="#000" stroke-width="0.8"/>
<path d="M1763.75,255.00L1766.25,259.00L1763.75,263.00L1761.25,259.00Z" fill="#ff0000" stroke="#000" stroke-width="0.8"/>
<path d="M1814.50,260.00L1817.00,264.00L1814.50,268.00L1812.00,264.00Z" fill="#ff0000" stroke="#000" stroke-width="0.8"/>
<path d="M1865.25,260.60L1867.75,264.60L1865.25,268.60L1862.75,264.60Z" fill="#ff0000" stroke="#000" stroke-width="0.8"/>
<path d="M1916.00,253.60L1918.50,257.60L1916.00,261.60L1913.50,257.60Z" fill="#ff0000" stroke="#000" stroke-width="0.8"/>
<path d="M1966.75,263.60L1969.25,267.60L1966.75,271.60L1964.25,267.60Z" fill="#ff0000" stroke="#000" stroke-width="0.8"/>
<path d="M2017.50,252.60L2020.00,256.60L2017.50,260.60L2015.00,256.60Z" fill="#ff0000" stroke="#000" stroke-width="0.8"/>
<polyline points="1611.50,125.00 1662.25,137.00 1713.00,122.40 1763.75,89.00 1814.50,103.00 1865.25,99.00 1916.00,73.00 1966.75,108.60 2017.50,89.60" fill="none" stroke="#0000ff" stroke-width="1.3" stroke-linejoin="round"/>
<path d="M1608.50,125.00H1614.50M1611.50,122.00V128.00" stroke="#0000ff" stroke-width="1" fill="none"/>
<path d="M1659.25,137.00H1665.25M1662.25,134.00V140.00" stroke="#0000ff" stroke-width="1" fill="none"/>
<path d="M1710.00,122.40H1716.00M1713.00,119.40V125.40" stroke="#0000ff" stroke-width="1" fill="none"/>
<path d="M1760.75,89.00H1766.75M1763.75,86.00V92.00" stroke="#0000ff" stroke-width="1" fill="none"/>
<path d="M1811.50,103.00H1817.50M1814.50,100.00V106.00" stroke="#0000ff" stroke-width="1" fill="none"/>
<path d="M1862.25,99.00H1868.25M1865.25,96.00V102.00" stroke="#0000ff" stroke-width="1" fill="none"/>
<path d="M1913.00,73.00H1919.00M1916.00,70.00V76.00" stroke="#0000ff" stroke-width="1" fill="none"/>
<path d="M1963.75,108.60H1969.75M1966.75,105.60V111.60" stroke="#0000ff" stroke-width="1" fill="none"/>
<path d="M2014.50,89.60H2020.50M2017.50,86.60V92.60" stroke="#0000ff" stroke-width="1" fill="none"/>
<polyline points="1611.50,124.40 1662.25,125.00 1713.00,99.40 1763.75,122.40 1814.50,123.60 1865.25,93.60 1916.00,97.00 1966.75,86.00 2017.50,117.40" fill="none" stroke="#008000" stroke-width="1.3" stroke-linejoin="round"/>
<circle cx="1611.50" cy="124.40" r="2.9" fill="#008000" stroke="#000" stroke-width="0.8"/>
<circle cx="1662.25" cy="125.00" r="2.9" fill="#008000" stroke="#000" stroke-width="0.8"/>
<circle cx="1713.00" cy="99.40" r="2.9" fill="#008000" stroke="#000" stroke-width="0.8"/>
<circle cx="1763.75" cy="122.40" r="2.9" fill="#008000" stroke="#000" stroke-width="0.8"/>
<circle cx="1814.50" cy="123.60" r="2.9" fill="#008000" stroke="#000" stroke-width="0.8"/>
<circle cx="1865.25" cy="93.60" r="2.9" fill="#008000" stroke="#000" stroke-width="0.8"/>
<circle cx="1916.00" cy="97.00" r="2.9" fill="#008000" stroke="#000" stroke-width="0.8"/>
<circle cx="1966.75" cy="86.00" r="2.9" fill="#008000" stroke="#000" stroke-width="0.8"/>
<circle cx="2017.50" cy="117.40" r="2.9" fill="#008000" stroke="#000" stroke-width="0.8"/>
<polyline points="1611.50,119.00 1662.25,120.60 1713.00,140.00 1763.75,83.00 1814.50,112.60 1865.25,95.60 1916.00,108.40 1966.75,118.60 2017.50,75.00" fill="none" stroke="#ffa500" stroke-width="1.3" stroke-linejoin="round"/>
<path d="M1611.50,115.70L1614.50,121.60L1608.50,121.60Z" fill="#ffa500" stroke="#000" stroke-width="0.8"/>
<path d="M1662.25,117.30L1665.25,123.20L1659.25,123.20Z" fill="#ffa500" stroke="#000" stroke-width="0.8"/>
<path d="M1713.00,136.70L1716.00,142.60L1710.00,142.60Z" fill="#ffa500" stroke="#000" stroke-width="0.8"/>
<path d="M1763.75,79.70L1766.75,85.60L1760.75,85.60Z" fill="#ffa500" stroke="#000" stroke-width="0.8"/>
<path d="M1814.50,109.30L1817.50,115.20L1811.50,115.20Z" fill="#ffa500" stroke="#000" stroke-width="0.8"/>
<path d="M1865.25,92.30L1868.25,98.20L1862.25,98.20Z" fill="#ffa500" stroke="#000" stroke-width="0.8"/>
<path d="M1916.00,105.10L1919.00,111.00L1913.00,111.00Z" fill="#ffa500" stroke="#000" stroke-width="0.8"/>
<path d="M1966.75,115.30L1969.75,121.20L1963.75,121.20Z" fill="#ffa500" stroke="#000" stroke-width="0.8"/>
<path d="M2017.50,71.70L2020.50,77.60L2014.50,77.60Z" fill="#ffa500" stroke="#000" stroke-width="0.8"/>
<polyline points="1611.50,85.60 1662.25,86.00 1713.00,88.00 1763.75,83.40 1814.50,77.00 1865.25,75.40 1916.00,90.60 1966.75,84.60 2017.50,85.00" fill="none" stroke="#800080" stroke-width="1.3" stroke-linejoin="round"/>
<path d="M1611.50,88.90L1614.50,83.00L1608.50,83.00Z" fill="#800080" stroke="#000" stroke-width="0.8"/>
<path d="M1662.25,89.30L1665.25,83.40L1659.25,83.40Z" fill="#800080" stroke="#000" stroke-width="0.8"/>
<path d="M1713.00,91.30L1716.00,85.40L1710.00,85.40Z" fill="#800080" stroke="#000" stroke-width="0.8"/>
<path d="M1763.75,86.70L1766.75,80.80L1760.75,80.80Z" fill="#800080" stroke="#000" stroke-width="0.8"/>
<path d="M1814.50,80.30L1817.50,74.40L1811.50,74.40Z" fill="#800080" stroke="#000" stroke-width="0.8"/>
<path d="M1865.25,78.70L1868.25,72.80L1862.25,72.80Z" fill="#800080" stroke="#000" stroke-width="0.8"/>
<path d="M1916.00,93.90L1919.00,88.00L1913.00,88.00Z" fill="#800080" stroke="#000" stroke-width="0.8"/>
<path d="M1966.75,87.90L1969.75,82.00L1963.75,82.00Z" fill="#800080" stroke="#000" stroke-width="0.8"/>
<path d="M2017.50,88.30L2020.50,82.40L2014.50,82.40Z" fill="#800080" stroke="#000" stroke-width="0.8"/>
</g>
<rect x="1611.50" y="11.50" width="406.00" height="304.00" fill="none" stroke="#000" stroke-width="1"/>
<path d="M1662.25,315.50v-3.2M1662.25,11.50v3.2M1713.00,315.50v-3.2M1713.00,11.50v3.2M1763.75,315.50v-3.2M1763.75,11.50v3.2M1814.50,315.50v-3.2M1814.50,11.50v3.2M1865.25,315.50v-3.2M1865.25,11.50v3.2M1916.00,315.50v-3.2M1916.00,11.50v3.2M1966.75,315.50v-3.2M1966.75,11.50v3.2M1611.50,277.50h3.2M2017.50,277.50h-3.2M1611.50,239.50h3.2M2017.50,239.50h-3.2M1611.50,201.50h3.2M2017.50,201.50h-3.2M1611.50,163.50h3.2M2017.50,163.50h-3.2M1611.50,125.50h3.2M2017.50,125.50h-3.2M1611.50,87.50h3.2M2017.50,87.50h-3.2M1611.50,49.50h3.2M2017.50,49.50h-3.2" stroke="#000" stroke-width="1" fill="none"/>
<text x="1608.60" y="321.00" class="tl" text-anchor="end">0.47</text>
<text x="1608.60" y="283.00" class="tl" text-anchor="end">0.48</text>
<text x="1608.60" y="245.00" class="tl" text-anchor="end">0.49</text>
<text x="1608.60" y="207.00" class="tl" text-anchor="end">0.50</text>
<text x="1608.60" y="169.00" class="tl" text-anchor="end">0.51</text>
<text x="1608.60" y="131.00" class="tl" text-anchor="end">0.52</text>
<text x="1608.60" y="93.00" class="tl" text-anchor="end">0.53</text>
<text x="1608.60" y="55.00" class="tl" text-anchor="end">0.54</text>
<text x="1608.60" y="17.00" class="tl" text-anchor="end">0.55</text>
<text x="1611.50" y="333.50" class="tl" text-anchor="middle">0.1</text>
<text x="1662.25" y="333.50" class="tl" text-anchor="middle">0.2</text>
<text x="1713.00" y="333.50" class="tl" text-anchor="middle">0.3</text>
<text x="1763.75" y="333.50" class="tl" text-anchor="middle">0.4</text>
<text x="1814.50" y="333.50" class="tl" text-anchor="middle">0.5</text>
<text x="1865.25" y="333.50" class="tl" text-anchor="middle">0.6</text>
<text x="1916.00" y="333.50" class="tl" text-anchor="middle">0.7</text>
<text x="1966.75" y="333.50" class="tl" text-anchor="middle">0.8</text>
<text x="2017.50" y="333.50" class="tl" text-anchor="middle">0.9</text>
<text x="1600.60" y="362.50" class="xl" textLength="428.9" lengthAdjust="spacingAndGlyphs">Fraction of Labeled Training Data</text>
<text transform="translate(1556.50,163.50) rotate(-90)" class="yl" text-anchor="middle" textLength="67" lengthAdjust="spacingAndGlyphs">Score</text>
<path d="M1628.00,179.40h37.7" stroke="#ff4d4d" stroke-width="1.4" fill="none"/>
<path d="M1646.85,175.40L1649.35,179.40L1646.85,183.40L1644.35,179.40Z" fill="#ff0000" stroke="#000" stroke-width="0.8"/>
<text x="1680.00" y="186.00" class="lg">SDNE</text>
<path d="M1628.00,206.65h37.7" stroke="#1a1aff" stroke-width="1.4" fill="none"/>
<path d="M1643.85,206.65H1649.85M1646.85,203.65V209.65" stroke="#0000ff" stroke-width="1" fill="none"/>
<text x="1680.00" y="213.25" class="lg">DeepWalk</text>
<path d="M1628.00,233.90h37.7" stroke="#1a8a1a" stroke-width="1.4" fill="none"/>
<circle cx="1646.85" cy="233.90" r="2.9" fill="#008000" stroke="#000" stroke-width="0.8"/>
<text x="1680.00" y="240.50" class="lg">N2V-S</text>
<path d="M1628.00,261.15h37.7" stroke="#ffbb44" stroke-width="1.4" fill="none"/>
<path d="M1646.85,257.85L1649.85,263.75L1643.85,263.75Z" fill="#ffa500" stroke="#000" stroke-width="0.8"/>
<text x="1680.00" y="267.75" class="lg">N2V-H</text>
<path d="M1628.00,288.40h37.7" stroke="#a040a8" stroke-width="1.4" fill="none"/>
<path d="M1646.85,291.70L1649.85,285.80L1643.85,285.80Z" fill="#800080" stroke="#000" stroke-width="0.8"/>
<text x="1680.00" y="295.00" class="lg">PD</text>
<text x="1602.49" y="441.00" class="capb" textLength="58.91" lengthAdjust="spacingAndGlyphs">(d)</text>
<text x="1675.98" y="441.00" class="cap" textLength="286.93" lengthAdjust="spacingAndGlyphs">Micro HepTh</text>
<g clip-path="url(#c4)">
<polygon points="75.50,656.00 126.25,703.60 177.00,655.00 227.75,681.60 278.50,649.40 329.25,671.00 380.00,583.00 430.75,648.00 481.50,597.00 481.50,711.00 430.75,724.00 380.00,653.00 329.25,683.00 278.50,665.40 227.75,733.60 177.00,671.00 126.25,715.60 75.50,680.00" fill="#ff0000" fill-opacity="0.1"/>
<polygon points="75.50,603.40 126.25,668.40 177.00,599.60 227.75,662.60 278.50,611.40 329.25,576.00 380.00,615.40 430.75,600.60 481.50,569.40 481.50,705.40 430.75,668.60 380.00,655.40 329.25,672.00 278.50,631.40 227.75,678.60 177.00,659.60 126.25,700.40 75.50,659.40" fill="#0000ff" fill-opacity="0.1"/>
<polygon points="75.50,646.40 126.25,664.00 177.00,603.00 227.75,599.00 278.50,618.00 329.25,658.00 380.00,589.00 430.75,619.40 481.50,636.60 481.50,676.60 430.75,671.40 380.00,655.00 329.25,706.00 278.50,670.00 227.75,663.00 177.00,655.00 126.25,772.00 75.50,678.40" fill="#008000" fill-opacity="0.1"/>
<polygon points="75.50,621.60 126.25,658.00 177.00,606.00 227.75,676.60 278.50,612.60 329.25,654.00 380.00,590.00 430.75,650.00 481.50,595.60 481.50,635.60 430.75,698.00 380.00,658.00 329.25,690.00 278.50,656.60 227.75,764.60 177.00,634.00 126.25,760.00 75.50,657.60" fill="#ffa500" fill-opacity="0.1"/>
<polygon points="75.50,684.00 126.25,775.00 177.00,657.60 227.75,780.00 278.50,651.60 329.25,772.00 380.00,583.00 430.75,699.00 481.50,596.00 481.50,664.00 430.75,815.00 380.00,663.00 329.25,788.00 278.50,671.60 227.75,796.00 177.00,689.60 126.25,791.00 75.50,768.00" fill="#800080" fill-opacity="0.1"/>
<polyline points="75.50,668.00 126.25,709.60 177.00,663.00 227.75,707.60 278.50,657.40 329.25,677.00 380.00,618.00 430.75,686.00 481.50,654.00" fill="none" stroke="#ff0000" stroke-width="1.3" stroke-linejoin="round"/>
<path d="M75.50,664.00L78.00,668.00L75.50,672.00L73.00,668.00Z" fill="#ff0000" stroke="#000" stroke-width="0.8"/>
<path d="M126.25,705.60L128.75,709.60L126.25,713.60L123.75,709.60Z" fill="#ff0000" stroke="#000" stroke-width="0.8"/>
<path d="M177.00,659.00L179.50,663.00L177.00,667.00L174.50,663.00Z" fill="#ff0000" stroke="#000" stroke-width="0.8"/>
<path d="M227.75,703.60L230.25,707.60L227.75,711.60L225.25,707.60Z" fill="#ff0000" stroke="#000" stroke-width="0.8"/>
<path d="M278.50,653.40L281.00,657.40L278.50,661.40L276.00,657.40Z" fill="#ff0000" stroke="#000" stroke-width="0.8"/>
<path d="M329.25,673.00L331.75,677.00L329.25,681.00L326.75,677.00Z" fill="#ff0000" stroke="#000" stroke-width="0.8"/>
<path d="M380.00,614.00L382.50,618.00L380.00,622.00L377.50,618.00Z" fill="#ff0000" stroke="#000" stroke-width="0.8"/>
<path d="M430.75,682.00L433.25,686.00L430.75,690.00L428.25,686.00Z" fill="#ff0000" stroke="#000" stroke-width="0.8"/>
<path d="M481.50,650.00L484.00,654.00L481.50,658.00L479.00,654.00Z" fill="#ff0000" stroke="#000" stroke-width="0.8"/>
<polyline points="75.50,631.40 126.25,684.40 177.00,629.60 227.75,670.60 278.50,621.40 329.25,624.00 380.00,635.40 430.75,634.60 481.50,637.40" fill="none" stroke="#0000ff" stroke-width="1.3" stroke-linejoin="round"/>
<path d="M72.50,631.40H78.50M75.50,628.40V634.40" stroke="#0000ff" stroke-width="1" fill="none"/>
<path d="M123.25,684.40H129.25M126.25,681.40V687.40" stroke="#0000ff" stroke-width="1" fill="none"/>
<path d="M174.00,629.60H180.00M177.00,626.60V632.60" stroke="#0000ff" stroke-width="1" fill="none"/>
<path d="M224.75,670.60H230.75M227.75,667.60V673.60" stroke="#0000ff" stroke-width="1" fill="none"/>
<path d="M275.50,621.40H281.50M278.50,618.40V624.40" stroke="#0000ff" stroke-width="1" fill="none"/>
<path d="M326.25,624.00H332.25M329.25,621.00V627.00" stroke="#0000ff" stroke-width="1" fill="none"/>
<path d="M377.00,635.40H383.00M380.00,632.40V638.40" stroke="#0000ff" stroke-width="1" fill="none"/>
<path d="M427.75,634.60H433.75M430.75,631.60V637.60" stroke="#0000ff" stroke-width="1" fill="none"/>
<path d="M478.50,637.40H484.50M481.50,634.40V640.40" stroke="#0000ff" stroke-width="1" fill="none"/>
<polyline points="75.50,662.40 126.25,718.00 177.00,629.00 227.75,631.00 278.50,644.00 329.25,682.00 380.00,622.00 430.75,645.40 481.50,656.60" fill="none" stroke="#008000" stroke-width="1.3" stroke-linejoin="round"/>
<circle cx="75.50" cy="662.40" r="2.9" fill="#008000" stroke="#000" stroke-width="0.8"/>
<circle cx="126.25" cy="718.00" r="2.9" fill="#008000" stroke="#000" stroke-width="0.8"/>
<circle cx="177.00" cy="629.00" r="2.9" fill="#008000" stroke="#000" stroke-width="0.8"/>
<circle cx="227.75" cy="631.00" r="2.9" fill="#008000" stroke="#000" stroke-width="0.8"/>
<circle cx="278.50" cy="644.00" r="2.9" fill="#008000" stroke="#000" stroke-width="0.8"/>
<circle cx="329.25" cy="682.00" r="2.9" fill="#008000" stroke="#000" stroke-width="0.8"/>
<circle cx="380.00" cy="622.00" r="2.9" fill="#008000" stroke="#000" stroke-width="0.8"/>
<circle cx="430.75" cy="645.40" r="2.9" fill="#008000" stroke="#000" stroke-width="0.8"/>
<circle cx="481.50" cy="656.60" r="2.9" fill="#008000" stroke="#000" stroke-width="0.8"/>
<polyline points="75.50,639.60 126.25,709.00 177.00,620.00 227.75,720.60 278.50,634.60 329.25,672.00 380.00,624.00 430.75,674.00 481.50,615.60" fill="none" stroke="#ffa500" stroke-width="1.3" stroke-linejoin="round"/>
<path d="M75.50,636.30L78.50,642.20L72.50,642.20Z" fill="#ffa500" stroke="#000" stroke-width="0.8"/>
<path d="M126.25,705.70L129.25,711.60L123.25,711.60Z" fill="#ffa500" stroke="#000" stroke-width="0.8"/>
<path d="M177.00,616.70L180.00,622.60L174.00,622.60Z" fill="#ffa500" stroke="#000" stroke-width="0.8"/>
<path d="M227.75,717.30L230.75,723.20L224.75,723.20Z" fill="#ffa500" stroke="#000" stroke-width="0.8"/>
<path d="M278.50,631.30L281.50,637.20L275.50,637.20Z" fill="#ffa500" stroke="#000" stroke-width="0.8"/>
<path d="M329.25,668.70L332.25,674.60L326.25,674.60Z" fill="#ffa500" stroke="#000" stroke-width="0.8"/>
<path d="M380.00,620.70L383.00,626.60L377.00,626.60Z" fill="#ffa500" stroke="#000" stroke-width="0.8"/>
<path d="M430.75,670.70L433.75,676.60L427.75,676.60Z" fill="#ffa500" stroke="#000" stroke-width="0.8"/>
<path d="M481.50,612.30L484.50,618.20L478.50,618.20Z" fill="#ffa500" stroke="#000" stroke-width="0.8"/>
<polyline points="75.50,726.00 126.25,783.00 177.00,673.60 227.75,788.00 278.50,661.60 329.25,780.00 380.00,623.00 430.75,757.00 481.50,630.00" fill="none" stroke="#800080" stroke-width="1.3" stroke-linejoin="round"/>
<path d="M75.50,729.30L78.50,723.40L72.50,723.40Z" fill="#800080" stroke="#000" stroke-width="0.8"/>
<path d="M126.25,786.30L129.25,780.40L123.25,780.40Z" fill="#800080" stroke="#000" stroke-width="0.8"/>
<path d="M177.00,676.90L180.00,671.00L174.00,671.00Z" fill="#800080" stroke="#000" stroke-width="0.8"/>
<path d="M227.75,791.30L230.75,785.40L224.75,785.40Z" fill="#800080" stroke="#000" stroke-width="0.8"/>
<path d="M278.50,664.90L281.50,659.00L275.50,659.00Z" fill="#800080" stroke="#000" stroke-width="0.8"/>
<path d="M329.25,783.30L332.25,777.40L326.25,777.40Z" fill="#800080" stroke="#000" stroke-width="0.8"/>
<path d="M380.00,626.30L383.00,620.40L377.00,620.40Z" fill="#800080" stroke="#000" stroke-width="0.8"/>
<path d="M430.75,760.30L433.75,754.40L427.75,754.40Z" fill="#800080" stroke="#000" stroke-width="0.8"/>
<path d="M481.50,633.30L484.50,627.40L478.50,627.40Z" fill="#800080" stroke="#000" stroke-width="0.8"/>
</g>
<rect x="75.50" y="544.30" width="406.00" height="304.00" fill="none" stroke="#000" stroke-width="1"/>
<path d="M126.25,848.30v-3.2M126.25,544.30v3.2M177.00,848.30v-3.2M177.00,544.30v3.2M227.75,848.30v-3.2M227.75,544.30v3.2M278.50,848.30v-3.2M278.50,544.30v3.2M329.25,848.30v-3.2M329.25,544.30v3.2M380.00,848.30v-3.2M380.00,544.30v3.2M430.75,848.30v-3.2M430.75,544.30v3.2M75.50,787.50h3.2M481.50,787.50h-3.2M75.50,726.70h3.2M481.50,726.70h-3.2M75.50,665.90h3.2M481.50,665.90h-3.2M75.50,605.10h3.2M481.50,605.10h-3.2" stroke="#000" stroke-width="1" fill="none"/>
<text x="72.60" y="853.80" class="tl" text-anchor="end">0.05</text>
<text x="72.60" y="793.00" class="tl" text-anchor="end">0.10</text>
<text x="72.60" y="732.20" class="tl" text-anchor="end">0.15</text>
<text x="72.60" y="671.40" class="tl" text-anchor="end">0.20</text>
<text x="72.60" y="610.60" class="tl" text-anchor="end">0.25</text>
<text x="72.60" y="549.80" class="tl" text-anchor="end">0.30</text>
<text x="75.50" y="866.30" class="tl" text-anchor="middle">0.1</text>
<text x="126.25" y="866.30" class="tl" text-anchor="middle">0.2</text>
<text x="177.00" y="866.30" class="tl" text-anchor="middle">0.3</text>
<text x="227.75" y="866.30" class="tl" text-anchor="middle">0.4</text>
<text x="278.50" y="866.30" class="tl" text-anchor="middle">0.5</text>
<text x="329.25" y="866.30" class="tl" text-anchor="middle">0.6</text>
<text x="380.00" y="866.30" class="tl" text-anchor="middle">0.7</text>
<text x="430.75" y="866.30" class="tl" text-anchor="middle">0.8</text>
<text x="481.50" y="866.30" class="tl" text-anchor="middle">0.9</text>
<text x="64.60" y="895.30" class="xl" textLength="428.9" lengthAdjust="spacingAndGlyphs">Fraction of Labeled Training Data</text>
<text transform="translate(20.50,696.30) rotate(-90)" class="yl" text-anchor="middle" textLength="67" lengthAdjust="spacingAndGlyphs">Score</text>
<path d="M319.00,712.00h37.7" stroke="#ff4d4d" stroke-width="1.4" fill="none"/>
<path d="M337.85,708.00L340.35,712.00L337.85,716.00L335.35,712.00Z" fill="#ff0000" stroke="#000" stroke-width="0.8"/>
<text x="371.00" y="718.60" class="lg">SDNE</text>
<path d="M319.00,739.25h37.7" stroke="#1a1aff" stroke-width="1.4" fill="none"/>
<path d="M334.85,739.25H340.85M337.85,736.25V742.25" stroke="#0000ff" stroke-width="1" fill="none"/>
<text x="371.00" y="745.85" class="lg">DeepWalk</text>
<path d="M319.00,766.50h37.7" stroke="#1a8a1a" stroke-width="1.4" fill="none"/>
<circle cx="337.85" cy="766.50" r="2.9" fill="#008000" stroke="#000" stroke-width="0.8"/>
<text x="371.00" y="773.10" class="lg">N2V-S</text>
<path d="M319.00,793.75h37.7" stroke="#ffbb44" stroke-width="1.4" fill="none"/>
<path d="M337.85,790.45L340.85,796.35L334.85,796.35Z" fill="#ffa500" stroke="#000" stroke-width="0.8"/>
<text x="371.00" y="800.35" class="lg">N2V-H</text>
<path d="M319.00,821.00h37.7" stroke="#a040a8" stroke-width="1.4" fill="none"/>
<path d="M337.85,824.30L340.85,818.40L334.85,818.40Z" fill="#800080" stroke="#000" stroke-width="0.8"/>
<text x="371.00" y="827.60" class="lg">PD</text>
<text x="30.07" y="972.70" class="capb" textLength="52.41" lengthAdjust="spacingAndGlyphs">(e)</text>
<text x="98.29" y="972.70" class="cap" textLength="358.31" lengthAdjust="spacingAndGlyphs">Macro Email-EU</text>
<g clip-path="url(#c5)">
<polygon points="587.50,703.40 638.25,704.60 689.00,685.60 739.75,694.00 790.50,685.60 841.25,673.00 892.00,668.00 942.75,648.40 993.50,646.00 993.50,718.00 942.75,792.40 892.00,688.00 841.25,711.00 790.50,733.60 739.75,714.00 689.00,715.60 638.25,794.60 587.50,753.40" fill="#ff0000" fill-opacity="0.1"/>
<polygon points="587.50,603.40 638.25,599.60 689.00,594.60 739.75,589.60 790.50,590.00 841.25,585.00 892.00,597.00 942.75,566.00 993.50,591.60 993.50,659.60 942.75,620.00 892.00,625.00 841.25,617.00 790.50,622.00 739.75,627.60 689.00,622.60 638.25,649.60 587.50,641.40" fill="#0000ff" fill-opacity="0.1"/>
<polygon points="587.50,626.00 638.25,630.00 689.00,600.00 739.75,595.40 790.50,609.60 841.25,637.00 892.00,567.60 942.75,605.60 993.50,616.00 993.50,692.00 942.75,637.60 892.00,623.60 841.25,657.00 790.50,633.60 739.75,623.40 689.00,624.00 638.25,650.00 587.50,654.00" fill="#008000" fill-opacity="0.1"/>
<polygon points="587.50,614.60 638.25,637.60 689.00,594.00 739.75,664.00 790.50,581.60 841.25,573.60 892.00,576.00 942.75,605.00 993.50,590.00 993.50,630.00 942.75,637.00 892.00,616.00 841.25,631.60 790.50,629.60 739.75,696.00 689.00,626.00 638.25,681.60 587.50,638.60" fill="#ffa500" fill-opacity="0.1"/>
<polygon points="587.50,642.00 638.25,661.60 689.00,615.00 739.75,677.40 790.50,602.60 841.25,640.40 892.00,580.00 942.75,637.60 993.50,557.00 993.50,661.00 942.75,749.60 892.00,660.00 841.25,670.40 790.50,642.60 739.75,701.40 689.00,641.00 638.25,681.60 587.50,686.00" fill="#800080" fill-opacity="0.1"/>
<polyline points="587.50,728.40 638.25,749.60 689.00,700.60 739.75,704.00 790.50,709.60 841.25,692.00 892.00,678.00 942.75,720.40 993.50,682.00" fill="none" stroke="#ff0000" stroke-width="1.3" stroke-linejoin="round"/>
<path d="M587.50,724.40L590.00,728.40L587.50,732.40L585.00,728.40Z" fill="#ff0000" stroke="#000" stroke-width="0.8"/>
<path d="M638.25,745.60L640.75,749.60L638.25,753.60L635.75,749.60Z" fill="#ff0000" stroke="#000" stroke-width="0.8"/>
<path d="M689.00,696.60L691.50,700.60L689.00,704.60L686.50,700.60Z" fill="#ff0000" stroke="#000" stroke-width="0.8"/>
<path d="M739.75,700.00L742.25,704.00L739.75,708.00L737.25,704.00Z" fill="#ff0000" stroke="#000" stroke-width="0.8"/>
<path d="M790.50,705.60L793.00,709.60L790.50,713.60L788.00,709.60Z" fill="#ff0000" stroke="#000" stroke-width="0.8"/>
<path d="M841.25,688.00L843.75,692.00L841.25,696.00L838.75,692.00Z" fill="#ff0000" stroke="#000" stroke-width="0.8"/>
<path d="M892.00,674.00L894.50,678.00L892.00,682.00L889.50,678.00Z" fill="#ff0000" stroke="#000" stroke-width="0.8"/>
<path d="M942.75,716.40L945.25,720.40L942.75,724.40L940.25,720.40Z" fill="#ff0000" stroke="#000" stroke-width="0.8"/>
<path d="M993.50,678.00L996.00,682.00L993.50,686.00L991.00,682.00Z" fill="#ff0000" stroke="#000" stroke-width="0.8"/>
<polyline points="587.50,622.40 638.25,624.60 689.00,608.60 739.75,608.60 790.50,606.00 841.25,601.00 892.00,611.00 942.75,593.00 993.50,625.60" fill="none" stroke="#0000ff" stroke-width="1.3" stroke-linejoin="round"/>
<path d="M584.50,622.40H590.50M587.50,619.40V625.40" stroke="#0000ff" stroke-width="1" fill="none"/>
<path d="M635.25,624.60H641.25M638.25,621.60V627.60" stroke="#0000ff" stroke-width="1" fill="none"/>
<path d="M686.00,608.60H692.00M689.00,605.60V611.60" stroke="#0000ff" stroke-width="1" fill="none"/>
<path d="M736.75,608.60H742.75M739.75,605.60V611.60" stroke="#0000ff" stroke-width="1" fill="none"/>
<path d="M787.50,606.00H793.50M790.50,603.00V609.00" stroke="#0000ff" stroke-width="1" fill="none"/>
<path d="M838.25,601.00H844.25M841.25,598.00V604.00" stroke="#0000ff" stroke-width="1" fill="none"/>
<path d="M889.00,611.00H895.00M892.00,608.00V614.00" stroke="#0000ff" stroke-width="1" fill="none"/>
<path d="M939.75,593.00H945.75M942.75,590.00V596.00" stroke="#0000ff" stroke-width="1" fill="none"/>
<path d="M990.50,625.60H996.50M993.50,622.60V628.60" stroke="#0000ff" stroke-width="1" fill="none"/>
<polyline points="587.50,640.00 638.25,640.00 689.00,612.00 739.75,609.40 790.50,621.60 841.25,647.00 892.00,595.60 942.75,621.60 993.50,654.00" fill="none" stroke="#008000" stroke-width="1.3" stroke-linejoin="round"/>
<circle cx="587.50" cy="640.00" r="2.9" fill="#008000" stroke="#000" stroke-width="0.8"/>
<circle cx="638.25" cy="640.00" r="2.9" fill="#008000" stroke="#000" stroke-width="0.8"/>
<circle cx="689.00" cy="612.00" r="2.9" fill="#008000" stroke="#000" stroke-width="0.8"/>
<circle cx="739.75" cy="609.40" r="2.9" fill="#008000" stroke="#000" stroke-width="0.8"/>
<circle cx="790.50" cy="621.60" r="2.9" fill="#008000" stroke="#000" stroke-width="0.8"/>
<circle cx="841.25" cy="647.00" r="2.9" fill="#008000" stroke="#000" stroke-width="0.8"/>
<circle cx="892.00" cy="595.60" r="2.9" fill="#008000" stroke="#000" stroke-width="0.8"/>
<circle cx="942.75" cy="621.60" r="2.9" fill="#008000" stroke="#000" stroke-width="0.8"/>
<circle cx="993.50" cy="654.00" r="2.9" fill="#008000" stroke="#000" stroke-width="0.8"/>
<polyline points="587.50,626.60 638.25,659.60 689.00,610.00 739.75,680.00 790.50,605.60 841.25,602.60 892.00,596.00 942.75,621.00 993.50,610.00" fill="none" stroke="#ffa500" stroke-width="1.3" stroke-linejoin="round"/>
<path d="M587.50,623.30L590.50,629.20L584.50,629.20Z" fill="#ffa500" stroke="#000" stroke-width="0.8"/>
<path d="M638.25,656.30L641.25,662.20L635.25,662.20Z" fill="#ffa500" stroke="#000" stroke-width="0.8"/>
<path d="M689.00,606.70L692.00,612.60L686.00,612.60Z" fill="#ffa500" stroke="#000" stroke-width="0.8"/>
<path d="M739.75,676.70L742.75,682.60L736.75,682.60Z" fill="#ffa500" stroke="#000" stroke-width="0.8"/>
<path d="M790.50,602.30L793.50,608.20L787.50,608.20Z" fill="#ffa500" stroke="#000" stroke-width="0.8"/>
<path d="M841.25,599.30L844.25,605.20L838.25,605.20Z" fill="#ffa500" stroke="#000" stroke-width="0.8"/>
<path d="M892.00,592.70L895.00,598.60L889.00,598.60Z" fill="#ffa500" stroke="#000" stroke-width="0.8"/>
<path d="M942.75,617.70L945.75,623.60L939.75,623.60Z" fill="#ffa500" stroke="#000" stroke-width="0.8"/>
<path d="M993.50,606.70L996.50,612.60L990.50,612.60Z" fill="#ffa500" stroke="#000" stroke-width="0.8"/>
<polyline points="587.50,664.00 638.25,671.60 689.00,628.00 739.75,689.40 790.50,622.60 841.25,655.40 892.00,620.00 942.75,693.60 993.50,609.00" fill="none" stroke="#800080" stroke-width="1.3" stroke-linejoin="round"/>
<path d="M587.50,667.30L590.50,661.40L584.50,661.40Z" fill="#800080" stroke="#000" stroke-width="0.8"/>
<path d="M638.25,674.90L641.25,669.00L635.25,669.00Z" fill="#800080" stroke="#000" stroke-width="0.8"/>
<path d="M689.00,631.30L692.00,625.40L686.00,625.40Z" fill="#800080" stroke="#000" stroke-width="0.8"/>
<path d="M739.75,692.70L742.75,686.80L736.75,686.80Z" fill="#800080" stroke="#000" stroke-width="0.8"/>
<path d="M790.50,625.90L793.50,620.00L787.50,620.00Z" fill="#800080" stroke="#000" stroke-width="0.8"/>
<path d="M841.25,658.70L844.25,652.80L838.25,652.80Z" fill="#800080" stroke="#000" stroke-width="0.8"/>
<path d="M892.00,623.30L895.00,617.40L889.00,617.40Z" fill="#800080" stroke="#000" stroke-width="0.8"/>
<path d="M942.75,696.90L945.75,691.00L939.75,691.00Z" fill="#800080" stroke="#000" stroke-width="0.8"/>
<path d="M993.50,612.30L996.50,606.40L990.50,606.40Z" fill="#800080" stroke="#000" stroke-width="0.8"/>
</g>
<rect x="587.50" y="544.30" width="406.00" height="304.00" fill="none" stroke="#000" stroke-width="1"/>
<path d="M638.25,848.30v-3.2M638.25,544.30v3.2M689.00,848.30v-3.2M689.00,544.30v3.2M739.75,848.30v-3.2M739.75,544.30v3.2M790.50,848.30v-3.2M790.50,544.30v3.2M841.25,848.30v-3.2M841.25,544.30v3.2M892.00,848.30v-3.2M892.00,544.30v3.2M942.75,848.30v-3.2M942.75,544.30v3.2M587.50,787.50h3.2M993.50,787.50h-3.2M587.50,726.70h3.2M993.50,726.70h-3.2M587.50,665.90h3.2M993.50,665.90h-3.2M587.50,605.10h3.2M993.50,605.10h-3.2" stroke="#000" stroke-width="1" fill="none"/>
<text x="584.60" y="853.80" class="tl" text-anchor="end">0.20</text>
<text x="584.60" y="793.00" class="tl" text-anchor="end">0.25</text>
<text x="584.60" y="732.20" class="tl" text-anchor="end">0.30</text>
<text x="584.60" y="671.40" class="tl" text-anchor="end">0.35</text>
<text x="584.60" y="610.60" class="tl" text-anchor="end">0.40</text>
<text x="584.60" y="549.80" class="tl" text-anchor="end">0.45</text>
<text x="587.50" y="866.30" class="tl" text-anchor="middle">0.1</text>
<text x="638.25" y="866.30" class="tl" text-anchor="middle">0.2</text>
<text x="689.00" y="866.30" class="tl" text-anchor="middle">0.3</text>
<text x="739.75" y="866.30" class="tl" text-anchor="middle">0.4</text>
<text x="790.50" y="866.30" class="tl" text-anchor="middle">0.5</text>
<text x="841.25" y="866.30" class="tl" text-anchor="middle">0.6</text>
<text x="892.00" y="866.30" class="tl" text-anchor="middle">0.7</text>
<text x="942.75" y="866.30" class="tl" text-anchor="middle">0.8</text>
<text x="993.50" y="866.30" class="tl" text-anchor="middle">0.9</text>
<text x="576.60" y="895.30" class="xl" textLength="428.9" lengthAdjust="spacingAndGlyphs">Fraction of Labeled Training Data</text>
<text transform="translate(532.50,696.30) rotate(-90)" class="yl" text-anchor="middle" textLength="67" lengthAdjust="spacingAndGlyphs">Score</text>
<path d="M830.40,712.00h37.7" stroke="#ff4d4d" stroke-width="1.4" fill="none"/>
<path d="M849.25,708.00L851.75,712.00L849.25,716.00L846.75,712.00Z" fill="#ff0000" stroke="#000" stroke-width="0.8"/>
<text x="882.40" y="718.60" class="lg">SDNE</text>
<path d="M830.40,739.25h37.7" stroke="#1a1aff" stroke-width="1.4" fill="none"/>
<path d="M846.25,739.25H852.25M849.25,736.25V742.25" stroke="#0000ff" stroke-width="1" fill="none"/>
<text x="882.40" y="745.85" class="lg">DeepWalk</text>
<path d="M830.40,766.50h37.7" stroke="#1a8a1a" stroke-width="1.4" fill="none"/>
<circle cx="849.25" cy="766.50" r="2.9" fill="#008000" stroke="#000" stroke-width="0.8"/>
<text x="882.40" y="773.10" class="lg">N2V-S</text>
<path d="M830.40,793.75h37.7" stroke="#ffbb44" stroke-width="1.4" fill="none"/>
<path d="M849.25,790.45L852.25,796.35L846.25,796.35Z" fill="#ffa500" stroke="#000" stroke-width="0.8"/>
<text x="882.40" y="800.35" class="lg">N2V-H</text>
<path d="M830.40,821.00h37.7" stroke="#a040a8" stroke-width="1.4" fill="none"/>
<path d="M849.25,824.30L852.25,818.40L846.25,818.40Z" fill="#800080" stroke="#000" stroke-width="0.8"/>
<text x="882.40" y="827.60" class="lg">PD</text>
<text x="549.64" y="972.70" class="capb" textLength="48.40" lengthAdjust="spacingAndGlyphs">(f)</text>
<text x="611.89" y="972.70" class="cap" textLength="348.62" lengthAdjust="spacingAndGlyphs">Micro Email-EU</text>
<g clip-path="url(#c6)">
<polygon points="1099.50,800.00 1150.25,810.40 1201.00,800.60 1251.75,800.00 1302.50,794.40 1353.25,798.60 1404.00,798.60 1454.75,795.40 1505.50,601.00 1505.50,717.00 1454.75,811.40 1404.00,810.60 1353.25,810.60 1302.50,808.40 1251.75,832.00 1201.00,812.60 1150.25,820.40 1099.50,826.00" fill="#ff0000" fill-opacity="0.1"/>
<polygon points="1099.50,790.00 1150.25,826.60 1201.00,826.60 1251.75,823.40 1302.50,833.00 1353.25,788.00 1404.00,813.00 1454.75,802.60 1505.50,721.60 1505.50,833.60 1454.75,842.60 1404.00,837.00 1353.25,832.00 1302.50,841.00 1251.75,835.40 1201.00,838.60 1150.25,838.60 1099.50,810.00" fill="#0000ff" fill-opacity="0.1"/>
<polygon points="1099.50,819.60 1150.25,830.60 1201.00,796.00 1251.75,834.60 1302.50,833.00 1353.25,835.60 1404.00,786.00 1454.75,797.00 1505.50,707.00 1505.50,827.00 1454.75,845.00 1404.00,826.00 1353.25,841.60 1302.50,839.00 1251.75,842.60 1201.00,834.00 1150.25,840.60 1099.50,835.60" fill="#008000" fill-opacity="0.1"/>
<polygon points="1099.50,805.00 1150.25,814.00 1201.00,832.00 1251.75,809.00 1302.50,835.00 1353.25,826.00 1404.00,779.00 1454.75,689.00 1505.50,730.00 1505.50,834.00 1454.75,811.00 1404.00,823.00 1353.25,838.00 1302.50,841.00 1251.75,841.00 1201.00,842.00 1150.25,842.00 1099.50,821.00" fill="#ffa500" fill-opacity="0.1"/>
<polygon points="1099.50,836.40 1150.25,836.40 1201.00,836.40 1251.75,836.40 1302.50,837.40 1353.25,835.00 1404.00,838.00 1454.75,837.00 1505.50,684.00 1505.50,784.00 1454.75,840.20 1404.00,841.20 1353.25,838.20 1302.50,840.60 1251.75,839.60 1201.00,839.60 1150.25,839.60 1099.50,839.60" fill="#800080" fill-opacity="0.1"/>
<polyline points="1099.50,813.00 1150.25,815.40 1201.00,806.60 1251.75,816.00 1302.50,801.40 1353.25,804.60 1404.00,804.60 1454.75,803.40 1505.50,659.00" fill="none" stroke="#ff0000" stroke-width="1.3" stroke-linejoin="round"/>
<path d="M1099.50,809.00L1102.00,813.00L1099.50,817.00L1097.00,813.00Z" fill="#ff0000" stroke="#000" stroke-width="0.8"/>
<path d="M1150.25,811.40L1152.75,815.40L1150.25,819.40L1147.75,815.40Z" fill="#ff0000" stroke="#000" stroke-width="0.8"/>
<path d="M1201.00,802.60L1203.50,806.60L1201.00,810.60L1198.50,806.60Z" fill="#ff0000" stroke="#000" stroke-width="0.8"/>
<path d="M1251.75,812.00L1254.25,816.00L1251.75,820.00L1249.25,816.00Z" fill="#ff0000" stroke="#000" stroke-width="0.8"/>
<path d="M1302.50,797.40L1305.00,801.40L1302.50,805.40L1300.00,801.40Z" fill="#ff0000" stroke="#000" stroke-width="0.8"/>
<path d="M1353.25,800.60L1355.75,804.60L1353.25,808.60L1350.75,804.60Z" fill="#ff0000" stroke="#000" stroke-width="0.8"/>
<path d="M1404.00,800.60L1406.50,804.60L1404.00,808.60L1401.50,804.60Z" fill="#ff0000" stroke="#000" stroke-width="0.8"/>
<path d="M1454.75,799.40L1457.25,803.40L1454.75,807.40L1452.25,803.40Z" fill="#ff0000" stroke="#000" stroke-width="0.8"/>
<path d="M1505.50,655.00L1508.00,659.00L1505.50,663.00L1503.00,659.00Z" fill="#ff0000" stroke="#000" stroke-width="0.8"/>
<polyline points="1099.50,800.00 1150.25,832.60 1201.00,832.60 1251.75,829.40 1302.50,837.00 1353.25,810.00 1404.00,825.00 1454.75,822.60 1505.50,777.60" fill="none" stroke="#0000ff" stroke-width="1.3" stroke-linejoin="round"/>
<path d="M1096.50,800.00H1102.50M1099.50,797.00V803.00" stroke="#0000ff" stroke-width="1" fill="none"/>
<path d="M1147.25,832.60H1153.25M1150.25,829.60V835.60" stroke="#0000ff" stroke-width="1" fill="none"/>
<path d="M1198.00,832.60H1204.00M1201.00,829.60V835.60" stroke="#0000ff" stroke-width="1" fill="none"/>
<path d="M1248.75,829.40H1254.75M1251.75,826.40V832.40" stroke="#0000ff" stroke-width="1" fill="none"/>
<path d="M1299.50,837.00H1305.50M1302.50,834.00V840.00" stroke="#0000ff" stroke-width="1" fill="none"/>
<path d="M1350.25,810.00H1356.25M1353.25,807.00V813.00" stroke="#0000ff" stroke-width="1" fill="none"/>
<path d="M1401.00,825.00H1407.00M1404.00,822.00V828.00" stroke="#0000ff" stroke-width="1" fill="none"/>
<path d="M1451.75,822.60H1457.75M1454.75,819.60V825.60" stroke="#0000ff" stroke-width="1" fill="none"/>
<path d="M1502.50,777.60H1508.50M1505.50,774.60V780.60" stroke="#0000ff" stroke-width="1" fill="none"/>
<polyline points="1099.50,827.60 1150.25,835.60 1201.00,815.00 1251.75,838.60 1302.50,836.00 1353.25,838.60 1404.00,806.00 1454.75,821.00 1505.50,767.00" fill="none" stroke="#008000" stroke-width="1.3" stroke-linejoin="round"/>
<circle cx="1099.50" cy="827.60" r="2.9" fill="#008000" stroke="#000" stroke-width="0.8"/>
<circle cx="1150.25" cy="835.60" r="2.9" fill="#008000" stroke="#000" stroke-width="0.8"/>
<circle cx="1201.00" cy="815.00" r="2.9" fill="#008000" stroke="#000" stroke-width="0.8"/>
<circle cx="1251.75" cy="838.60" r="2.9" fill="#008000" stroke="#000" stroke-width="0.8"/>
<circle cx="1302.50" cy="836.00" r="2.9" fill="#008000" stroke="#000" stroke-width="0.8"/>
<circle cx="1353.25" cy="838.60" r="2.9" fill="#008000" stroke="#000" stroke-width="0.8"/>
<circle cx="1404.00" cy="806.00" r="2.9" fill="#008000" stroke="#000" stroke-width="0.8"/>
<circle cx="1454.75" cy="821.00" r="2.9" fill="#008000" stroke="#000" stroke-width="0.8"/>
<circle cx="1505.50" cy="767.00" r="2.9" fill="#008000" stroke="#000" stroke-width="0.8"/>
<polyline points="1099.50,813.00 1150.25,828.00 1201.00,837.00 1251.75,825.00 1302.50,838.00 1353.25,832.00 1404.00,801.00 1454.75,750.00 1505.50,782.00" fill="none" stroke="#ffa500" stroke-width="1.3" stroke-linejoin="round"/>
<path d="M1099.50,809.70L1102.50,815.60L1096.50,815.60Z" fill="#ffa500" stroke="#000" stroke-width="0.8"/>
<path d="M1150.25,824.70L1153.25,830.60L1147.25,830.60Z" fill="#ffa500" stroke="#000" stroke-width="0.8"/>
<path d="M1201.00,833.70L1204.00,839.60L1198.00,839.60Z" fill="#ffa500" stroke="#000" stroke-width="0.8"/>
<path d="M1251.75,821.70L1254.75,827.60L1248.75,827.60Z" fill="#ffa500" stroke="#000" stroke-width="0.8"/>
<path d="M1302.50,834.70L1305.50,840.60L1299.50,840.60Z" fill="#ffa500" stroke="#000" stroke-width="0.8"/>
<path d="M1353.25,828.70L1356.25,834.60L1350.25,834.60Z" fill="#ffa500" stroke="#000" stroke-width="0.8"/>
<path d="M1404.00,797.70L1407.00,803.60L1401.00,803.60Z" fill="#ffa500" stroke="#000" stroke-width="0.8"/>
<path d="M1454.75,746.70L1457.75,752.60L1451.75,752.60Z" fill="#ffa500" stroke="#000" stroke-width="0.8"/>
<path d="M1505.50,778.70L1508.50,784.60L1502.50,784.60Z" fill="#ffa500" stroke="#000" stroke-width="0.8"/>
<polyline points="1099.50,838.00 1150.25,838.00 1201.00,838.00 1251.75,838.00 1302.50,839.00 1353.25,836.60 1404.00,839.60 1454.75,838.60 1505.50,734.00" fill="none" stroke="#800080" stroke-width="1.3" stroke-linejoin="round"/>
<path d="M1099.50,841.30L1102.50,835.40L1096.50,835.40Z" fill="#800080" stroke="#000" stroke-width="0.8"/>
<path d="M1150.25,841.30L1153.25,835.40L1147.25,835.40Z" fill="#800080" stroke="#000" stroke-width="0.8"/>
<path d="M1201.00,841.30L1204.00,835.40L1198.00,835.40Z" fill="#800080" stroke="#000" stroke-width="0.8"/>
<path d="M1251.75,841.30L1254.75,835.40L1248.75,835.40Z" fill="#800080" stroke="#000" stroke-width="0.8"/>
<path d="M1302.50,842.30L1305.50,836.40L1299.50,836.40Z" fill="#800080" stroke="#000" stroke-width="0.8"/>
<path d="M1353.25,839.90L1356.25,834.00L1350.25,834.00Z" fill="#800080" stroke="#000" stroke-width="0.8"/>
<path d="M1404.00,842.90L1407.00,837.00L1401.00,837.00Z" fill="#800080" stroke="#000" stroke-width="0.8"/>
<path d="M1454.75,841.90L1457.75,836.00L1451.75,836.00Z" fill="#800080" stroke="#000" stroke-width="0.8"/>
<path d="M1505.50,737.30L1508.50,731.40L1502.50,731.40Z" fill="#800080" stroke="#000" stroke-width="0.8"/>
</g>
<rect x="1099.50" y="544.30" width="406.00" height="304.00" fill="none" stroke="#000" stroke-width="1"/>
<path d="M1150.25,848.30v-3.2M1150.25,544.30v3.2M1201.00,848.30v-3.2M1201.00,544.30v3.2M1251.75,848.30v-3.2M1251.75,544.30v3.2M1302.50,848.30v-3.2M1302.50,544.30v3.2M1353.25,848.30v-3.2M1353.25,544.30v3.2M1404.00,848.30v-3.2M1404.00,544.30v3.2M1454.75,848.30v-3.2M1454.75,544.30v3.2M1099.50,787.50h3.2M1505.50,787.50h-3.2M1099.50,726.70h3.2M1505.50,726.70h-3.2M1099.50,665.90h3.2M1505.50,665.90h-3.2M1099.50,605.10h3.2M1505.50,605.10h-3.2" stroke="#000" stroke-width="1" fill="none"/>
<text x="1096.60" y="853.80" class="tl" text-anchor="end">0.15</text>
<text x="1096.60" y="793.00" class="tl" text-anchor="end">0.20</text>
<text x="1096.60" y="732.20" class="tl" text-anchor="end">0.25</text>
<text x="1096.60" y="671.40" class="tl" text-anchor="end">0.30</text>
<text x="1096.60" y="610.60" class="tl" text-anchor="end">0.35</text>
<text x="1096.60" y="549.80" class="tl" text-anchor="end">0.40</text>
<text x="1099.50" y="866.30" class="tl" text-anchor="middle">0.1</text>
<text x="1150.25" y="866.30" class="tl" text-anchor="middle">0.2</text>
<text x="1201.00" y="866.30" class="tl" text-anchor="middle">0.3</text>
<text x="1251.75" y="866.30" class="tl" text-anchor="middle">0.4</text>
<text x="1302.50" y="866.30" class="tl" text-anchor="middle">0.5</text>
<text x="1353.25" y="866.30" class="tl" text-anchor="middle">0.6</text>
<text x="1404.00" y="866.30" class="tl" text-anchor="middle">0.7</text>
<text x="1454.75" y="866.30" class="tl" text-anchor="middle">0.8</text>
<text x="1505.50" y="866.30" class="tl" text-anchor="middle">0.9</text>
<text x="1088.60" y="895.30" class="xl" textLength="428.9" lengthAdjust="spacingAndGlyphs">Fraction of Labeled Training Data</text>
<text transform="translate(1044.50,696.30) rotate(-90)" class="yl" text-anchor="middle" textLength="67" lengthAdjust="spacingAndGlyphs">Score</text>
<path d="M1116.00,568.40h37.7" stroke="#ff4d4d" stroke-width="1.4" fill="none"/>
<path d="M1134.85,564.40L1137.35,568.40L1134.85,572.40L1132.35,568.40Z" fill="#ff0000" stroke="#000" stroke-width="0.8"/>
<text x="1168.00" y="575.00" class="lg">SDNE</text>
<path d="M1116.00,595.65h37.7" stroke="#1a1aff" stroke-width="1.4" fill="none"/>
<path d="M1131.85,595.65H1137.85M1134.85,592.65V598.65" stroke="#0000ff" stroke-width="1" fill="none"/>
<text x="1168.00" y="602.25" class="lg">DeepWalk</text>
<path d="M1116.00,622.90h37.7" stroke="#1a8a1a" stroke-width="1.4" fill="none"/>
<circle cx="1134.85" cy="622.90" r="2.9" fill="#008000" stroke="#000" stroke-width="0.8"/>
<text x="1168.00" y="629.50" class="lg">N2V-S</text>
<path d="M1116.00,650.15h37.7" stroke="#ffbb44" stroke-width="1.4" fill="none"/>
<path d="M1134.85,646.85L1137.85,652.75L1131.85,652.75Z" fill="#ffa500" stroke="#000" stroke-width="0.8"/>
<text x="1168.00" y="656.75" class="lg">N2V-H</text>
<path d="M1116.00,677.40h37.7" stroke="#a040a8" stroke-width="1.4" fill="none"/>
<path d="M1134.85,680.70L1137.85,674.80L1131.85,674.80Z" fill="#800080" stroke="#000" stroke-width="0.8"/>
<text x="1168.00" y="684.00" class="lg">PD</text>
<text x="1059.66" y="972.70" class="capb" textLength="55.34" lengthAdjust="spacingAndGlyphs">(g)</text>
<text x="1130.09" y="972.70" class="cap" textLength="348.01" lengthAdjust="spacingAndGlyphs">Macro Facebook</text>
<g clip-path="url(#c7)">
<polygon points="1611.50,621.18 1662.25,634.52 1713.00,649.51 1763.75,630.01 1814.50,689.33 1865.25,700.82 1916.00,682.14 1966.75,666.95 2017.50,702.26 2017.50,755.62 1966.75,699.79 1916.00,747.82 1865.25,739.82 1814.50,716.01 1763.75,703.90 1713.00,672.08 1662.25,659.15 1611.50,826.44" fill="#ff0000" fill-opacity="0.1"/>
<polygon points="1611.50,603.73 1662.25,578.08 1713.00,581.16 1763.75,575.00 1814.50,571.51 1865.25,563.71 1916.00,559.60 1966.75,569.46 2017.50,554.06 2017.50,623.85 1966.75,616.67 1916.00,594.50 1865.25,584.23 1814.50,610.51 1763.75,593.47 1713.00,614.00 1662.25,598.60 1611.50,665.31" fill="#0000ff" fill-opacity="0.1"/>
<polygon points="1611.50,585.67 1662.25,577.05 1713.00,587.93 1763.75,580.13 1814.50,578.08 1865.25,570.89 1916.00,576.64 1966.75,558.58 2017.50,541.13 2017.50,600.66 1966.75,587.31 1916.00,605.38 1865.25,609.89 1814.50,590.39 1763.75,592.44 1713.00,600.24 1662.25,585.26 1611.50,602.09" fill="#008000" fill-opacity="0.1"/>
<polygon points="1611.50,609.48 1662.25,599.63 1713.00,581.16 1763.75,565.35 1814.50,582.18 1865.25,567.81 1916.00,565.15 1966.75,556.53 2017.50,587.31 2017.50,611.94 1966.75,583.21 1916.00,597.99 1865.25,592.44 1814.50,598.60 1763.75,600.24 1713.00,595.52 1662.25,624.26 1611.50,662.85" fill="#ffa500" fill-opacity="0.1"/>
<polygon points="1611.50,580.13 1662.25,577.67 1713.00,581.16 1763.75,578.08 1814.50,586.70 1865.25,551.39 1916.00,591.42 1966.75,575.41 2017.50,556.11 2017.50,584.85 1966.75,600.04 1916.00,614.00 1865.25,584.23 1814.50,596.96 1763.75,590.39 1713.00,591.42 1662.25,587.93 1611.50,590.39" fill="#800080" fill-opacity="0.1"/>
<polyline points="1611.50,723.81 1662.25,646.84 1713.00,660.79 1763.75,666.95 1814.50,702.67 1865.25,720.32 1916.00,714.98 1966.75,683.37 2017.50,728.94" fill="none" stroke="#ff0000" stroke-width="1.3" stroke-linejoin="round"/>
<path d="M1611.50,719.81L1614.00,723.81L1611.50,727.81L1609.00,723.81Z" fill="#ff0000" stroke="#000" stroke-width="0.8"/>
<path d="M1662.25,642.84L1664.75,646.84L1662.25,650.84L1659.75,646.84Z" fill="#ff0000" stroke="#000" stroke-width="0.8"/>
<path d="M1713.00,656.79L1715.50,660.79L1713.00,664.79L1710.50,660.79Z" fill="#ff0000" stroke="#000" stroke-width="0.8"/>
<path d="M1763.75,662.95L1766.25,666.95L1763.75,670.95L1761.25,666.95Z" fill="#ff0000" stroke="#000" stroke-width="0.8"/>
<path d="M1814.50,698.67L1817.00,702.67L1814.50,706.67L1812.00,702.67Z" fill="#ff0000" stroke="#000" stroke-width="0.8"/>
<path d="M1865.25,716.32L1867.75,720.32L1865.25,724.32L1862.75,720.32Z" fill="#ff0000" stroke="#000" stroke-width="0.8"/>
<path d="M1916.00,710.98L1918.50,714.98L1916.00,718.98L1913.50,714.98Z" fill="#ff0000" stroke="#000" stroke-width="0.8"/>
<path d="M1966.75,679.37L1969.25,683.37L1966.75,687.37L1964.25,683.37Z" fill="#ff0000" stroke="#000" stroke-width="0.8"/>
<path d="M2017.50,724.94L2020.00,728.94L2017.50,732.94L2015.00,728.94Z" fill="#ff0000" stroke="#000" stroke-width="0.8"/>
<polyline points="1611.50,634.52 1662.25,588.34 1713.00,597.58 1763.75,584.23 1814.50,591.01 1865.25,573.97 1916.00,577.05 1966.75,593.06 2017.50,588.96" fill="none" stroke="#0000ff" stroke-width="1.3" stroke-linejoin="round"/>
<path d="M1608.50,634.52H1614.50M1611.50,631.52V637.52" stroke="#0000ff" stroke-width="1" fill="none"/>
<path d="M1659.25,588.34H1665.25M1662.25,585.34V591.34" stroke="#0000ff" stroke-width="1" fill="none"/>
<path d="M1710.00,597.58H1716.00M1713.00,594.58V600.58" stroke="#0000ff" stroke-width="1" fill="none"/>
<path d="M1760.75,584.23H1766.75M1763.75,581.23V587.23" stroke="#0000ff" stroke-width="1" fill="none"/>
<path d="M1811.50,591.01H1817.50M1814.50,588.01V594.01" stroke="#0000ff" stroke-width="1" fill="none"/>
<path d="M1862.25,573.97H1868.25M1865.25,570.97V576.97" stroke="#0000ff" stroke-width="1" fill="none"/>
<path d="M1913.00,577.05H1919.00M1916.00,574.05V580.05" stroke="#0000ff" stroke-width="1" fill="none"/>
<path d="M1963.75,593.06H1969.75M1966.75,590.06V596.06" stroke="#0000ff" stroke-width="1" fill="none"/>
<path d="M2014.50,588.96H2020.50M2017.50,585.96V591.96" stroke="#0000ff" stroke-width="1" fill="none"/>
<polyline points="1611.50,593.88 1662.25,581.16 1713.00,594.09 1763.75,586.29 1814.50,584.23 1865.25,590.39 1916.00,591.01 1966.75,572.95 2017.50,570.89" fill="none" stroke="#008000" stroke-width="1.3" stroke-linejoin="round"/>
<circle cx="1611.50" cy="593.88" r="2.9" fill="#008000" stroke="#000" stroke-width="0.8"/>
<circle cx="1662.25" cy="581.16" r="2.9" fill="#008000" stroke="#000" stroke-width="0.8"/>
<circle cx="1713.00" cy="594.09" r="2.9" fill="#008000" stroke="#000" stroke-width="0.8"/>
<circle cx="1763.75" cy="586.29" r="2.9" fill="#008000" stroke="#000" stroke-width="0.8"/>
<circle cx="1814.50" cy="584.23" r="2.9" fill="#008000" stroke="#000" stroke-width="0.8"/>
<circle cx="1865.25" cy="590.39" r="2.9" fill="#008000" stroke="#000" stroke-width="0.8"/>
<circle cx="1916.00" cy="591.01" r="2.9" fill="#008000" stroke="#000" stroke-width="0.8"/>
<circle cx="1966.75" cy="572.95" r="2.9" fill="#008000" stroke="#000" stroke-width="0.8"/>
<circle cx="2017.50" cy="570.89" r="2.9" fill="#008000" stroke="#000" stroke-width="0.8"/>
<polyline points="1611.50,636.16 1662.25,611.94 1713.00,588.34 1763.75,582.80 1814.50,590.39 1865.25,580.13 1916.00,581.57 1966.75,569.87 2017.50,599.63" fill="none" stroke="#ffa500" stroke-width="1.3" stroke-linejoin="round"/>
<path d="M1611.50,632.86L1614.50,638.76L1608.50,638.76Z" fill="#ffa500" stroke="#000" stroke-width="0.8"/>
<path d="M1662.25,608.64L1665.25,614.54L1659.25,614.54Z" fill="#ffa500" stroke="#000" stroke-width="0.8"/>
<path d="M1713.00,585.04L1716.00,590.94L1710.00,590.94Z" fill="#ffa500" stroke="#000" stroke-width="0.8"/>
<path d="M1763.75,579.50L1766.75,585.40L1760.75,585.40Z" fill="#ffa500" stroke="#000" stroke-width="0.8"/>
<path d="M1814.50,587.09L1817.50,592.99L1811.50,592.99Z" fill="#ffa500" stroke="#000" stroke-width="0.8"/>
<path d="M1865.25,576.83L1868.25,582.73L1862.25,582.73Z" fill="#ffa500" stroke="#000" stroke-width="0.8"/>
<path d="M1916.00,578.27L1919.00,584.17L1913.00,584.17Z" fill="#ffa500" stroke="#000" stroke-width="0.8"/>
<path d="M1966.75,566.57L1969.75,572.47L1963.75,572.47Z" fill="#ffa500" stroke="#000" stroke-width="0.8"/>
<path d="M2017.50,596.33L2020.50,602.23L2014.50,602.23Z" fill="#ffa500" stroke="#000" stroke-width="0.8"/>
<polyline points="1611.50,585.26 1662.25,582.80 1713.00,586.29 1763.75,584.23 1814.50,591.83 1865.25,567.81 1916.00,602.71 1966.75,587.72 2017.50,570.48" fill="none" stroke="#800080" stroke-width="1.3" stroke-linejoin="round"/>
<path d="M1611.50,588.56L1614.50,582.66L1608.50,582.66Z" fill="#800080" stroke="#000" stroke-width="0.8"/>
<path d="M1662.25,586.10L1665.25,580.20L1659.25,580.20Z" fill="#800080" stroke="#000" stroke-width="0.8"/>
<path d="M1713.00,589.59L1716.00,583.69L1710.00,583.69Z" fill="#800080" stroke="#000" stroke-width="0.8"/>
<path d="M1763.75,587.53L1766.75,581.63L1760.75,581.63Z" fill="#800080" stroke="#000" stroke-width="0.8"/>
<path d="M1814.50,595.13L1817.50,589.23L1811.50,589.23Z" fill="#800080" stroke="#000" stroke-width="0.8"/>
<path d="M1865.25,571.11L1868.25,565.21L1862.25,565.21Z" fill="#800080" stroke="#000" stroke-width="0.8"/>
<path d="M1916.00,606.01L1919.00,600.11L1913.00,600.11Z" fill="#800080" stroke="#000" stroke-width="0.8"/>
<path d="M1966.75,591.02L1969.75,585.12L1963.75,585.12Z" fill="#800080" stroke="#000" stroke-width="0.8"/>
<path d="M2017.50,573.78L2020.50,567.88L2014.50,567.88Z" fill="#800080" stroke="#000" stroke-width="0.8"/>
</g>
<rect x="1611.50" y="535.80" width="406.00" height="312.50" fill="none" stroke="#000" stroke-width="1"/>
<path d="M1662.25,848.30v-3.2M1662.25,535.80v3.2M1713.00,848.30v-3.2M1713.00,535.80v3.2M1763.75,848.30v-3.2M1763.75,535.80v3.2M1814.50,848.30v-3.2M1814.50,535.80v3.2M1865.25,848.30v-3.2M1865.25,535.80v3.2M1916.00,848.30v-3.2M1916.00,535.80v3.2M1966.75,848.30v-3.2M1966.75,535.80v3.2M1611.50,761.25h3.2M2017.50,761.25h-3.2M1611.50,674.21h3.2M2017.50,674.21h-3.2M1611.50,587.16h3.2M2017.50,587.16h-3.2" stroke="#000" stroke-width="1" fill="none"/>
<text x="1608.60" y="853.80" class="tl" text-anchor="end">0.50</text>
<text x="1608.60" y="766.75" class="tl" text-anchor="end">0.55</text>
<text x="1608.60" y="679.71" class="tl" text-anchor="end">0.60</text>
<text x="1608.60" y="592.66" class="tl" text-anchor="end">0.65</text>
<text x="1611.50" y="866.30" class="tl" text-anchor="middle">0.1</text>
<text x="1662.25" y="866.30" class="tl" text-anchor="middle">0.2</text>
<text x="1713.00" y="866.30" class="tl" text-anchor="middle">0.3</text>
<text x="1763.75" y="866.30" class="tl" text-anchor="middle">0.4</text>
<text x="1814.50" y="866.30" class="tl" text-anchor="middle">0.5</text>
<text x="1865.25" y="866.30" class="tl" text-anchor="middle">0.6</text>
<text x="1916.00" y="866.30" class="tl" text-anchor="middle">0.7</text>
<text x="1966.75" y="866.30" class="tl" text-anchor="middle">0.8</text>
<text x="2017.50" y="866.30" class="tl" text-anchor="middle">0.9</text>
<text x="1600.60" y="895.30" class="xl" textLength="428.9" lengthAdjust="spacingAndGlyphs">Fraction of Labeled Training Data</text>
<text transform="translate(1556.50,692.05) rotate(-90)" class="yl" text-anchor="middle" textLength="67" lengthAdjust="spacingAndGlyphs">Score</text>
<path d="M1627.40,712.10h37.7" stroke="#ff4d4d" stroke-width="1.4" fill="none"/>
<path d="M1646.25,708.10L1648.75,712.10L1646.25,716.10L1643.75,712.10Z" fill="#ff0000" stroke="#000" stroke-width="0.8"/>
<text x="1679.40" y="718.70" class="lg">SDNE</text>
<path d="M1627.40,739.40h37.7" stroke="#1a1aff" stroke-width="1.4" fill="none"/>
<path d="M1643.25,739.40H1649.25M1646.25,736.40V742.40" stroke="#0000ff" stroke-width="1" fill="none"/>
<text x="1679.40" y="746.00" class="lg">DeepWalk</text>
<path d="M1627.40,766.70h37.7" stroke="#1a8a1a" stroke-width="1.4" fill="none"/>
<circle cx="1646.25" cy="766.70" r="2.9" fill="#008000" stroke="#000" stroke-width="0.8"/>
<text x="1679.40" y="773.30" class="lg">N2V-S</text>
<path d="M1627.40,794.00h37.7" stroke="#ffbb44" stroke-width="1.4" fill="none"/>
<path d="M1646.25,790.70L1649.25,796.60L1643.25,796.60Z" fill="#ffa500" stroke="#000" stroke-width="0.8"/>
<text x="1679.40" y="800.60" class="lg">N2V-H</text>
<path d="M1627.40,821.30h37.7" stroke="#a040a8" stroke-width="1.4" fill="none"/>
<path d="M1646.25,824.60L1649.25,818.70L1643.25,818.70Z" fill="#800080" stroke="#000" stroke-width="0.8"/>
<text x="1679.40" y="827.90" class="lg">PD</text>
<text x="1575.37" y="972.70" class="capb" textLength="57.80" lengthAdjust="spacingAndGlyphs">(h)</text>
<text x="1648.59" y="972.70" class="cap" textLength="338.01" lengthAdjust="spacingAndGlyphs">Micro Facebook</text>
<g clip-path="url(#c8)">
<polygon points="75.50,1232.00 126.25,1231.00 177.00,1259.00 227.75,1208.40 278.50,1231.60 329.25,1198.40 380.00,1234.60 430.75,1211.00 481.50,1238.60 481.50,1298.60 430.75,1223.00 380.00,1274.60 329.25,1258.40 278.50,1293.60 227.75,1246.40 177.00,1286.20 126.25,1247.00 75.50,1248.00" fill="#ff0000" fill-opacity="0.1"/>
<polygon points="75.50,1102.00 126.25,1142.00 177.00,1118.40 227.75,1164.60 278.50,1169.00 329.25,1190.60 380.00,1222.00 430.75,1162.00 481.50,1137.40 481.50,1197.40 430.75,1248.00 380.00,1234.00 329.25,1214.60 278.50,1197.00 227.75,1172.60 177.00,1200.40 126.25,1168.00 75.50,1172.00" fill="#0000ff" fill-opacity="0.1"/>
<polygon points="75.50,1133.00 126.25,1146.00 177.00,1146.60 227.75,1169.60 278.50,1181.40 329.25,1156.00 380.00,1188.60 430.75,1122.60 481.50,1146.60 481.50,1192.60 430.75,1178.60 380.00,1220.60 329.25,1170.00 278.50,1201.40 227.75,1177.60 177.00,1186.60 126.25,1170.00 75.50,1157.00" fill="#008000" fill-opacity="0.1"/>
<polygon points="75.50,1111.60 126.25,1171.40 177.00,1151.00 227.75,1168.40 278.50,1160.60 329.25,1142.40 380.00,1139.00 430.75,1180.60 481.50,1147.00 481.50,1171.00 430.75,1204.60 380.00,1221.00 329.25,1190.40 278.50,1186.60 227.75,1208.40 177.00,1191.00 126.25,1187.40 75.50,1179.60" fill="#ffa500" fill-opacity="0.1"/>
<polygon points="75.50,1333.60 126.25,1333.40 177.00,1334.00 227.75,1335.40 278.50,1336.00 329.25,1335.60 380.00,1330.60 430.75,1330.60 481.50,1336.00 481.50,1346.00 430.75,1336.60 380.00,1336.60 329.25,1341.60 278.50,1342.00 227.75,1341.40 177.00,1340.00 126.25,1339.40 75.50,1339.60" fill="#800080" fill-opacity="0.1"/>
<polyline points="75.50,1240.00 126.25,1239.00 177.00,1272.60 227.75,1227.40 278.50,1262.60 329.25,1228.40 380.00,1254.60 430.75,1217.00 481.50,1268.60" fill="none" stroke="#ff0000" stroke-width="1.3" stroke-linejoin="round"/>
<path d="M75.50,1236.00L78.00,1240.00L75.50,1244.00L73.00,1240.00Z" fill="#ff0000" stroke="#000" stroke-width="0.8"/>
<path d="M126.25,1235.00L128.75,1239.00L126.25,1243.00L123.75,1239.00Z" fill="#ff0000" stroke="#000" stroke-width="0.8"/>
<path d="M177.00,1268.60L179.50,1272.60L177.00,1276.60L174.50,1272.60Z" fill="#ff0000" stroke="#000" stroke-width="0.8"/>
<path d="M227.75,1223.40L230.25,1227.40L227.75,1231.40L225.25,1227.40Z" fill="#ff0000" stroke="#000" stroke-width="0.8"/>
<path d="M278.50,1258.60L281.00,1262.60L278.50,1266.60L276.00,1262.60Z" fill="#ff0000" stroke="#000" stroke-width="0.8"/>
<path d="M329.25,1224.40L331.75,1228.40L329.25,1232.40L326.75,1228.40Z" fill="#ff0000" stroke="#000" stroke-width="0.8"/>
<path d="M380.00,1250.60L382.50,1254.60L380.00,1258.60L377.50,1254.60Z" fill="#ff0000" stroke="#000" stroke-width="0.8"/>
<path d="M430.75,1213.00L433.25,1217.00L430.75,1221.00L428.25,1217.00Z" fill="#ff0000" stroke="#000" stroke-width="0.8"/>
<path d="M481.50,1264.60L484.00,1268.60L481.50,1272.60L479.00,1268.60Z" fill="#ff0000" stroke="#000" stroke-width="0.8"/>
<polyline points="75.50,1137.00 126.25,1155.00 177.00,1159.40 227.75,1168.60 278.50,1183.00 329.25,1202.60 380.00,1228.00 430.75,1205.00 481.50,1167.40" fill="none" stroke="#0000ff" stroke-width="1.3" stroke-linejoin="round"/>
<path d="M72.50,1137.00H78.50M75.50,1134.00V1140.00" stroke="#0000ff" stroke-width="1" fill="none"/>
<path d="M123.25,1155.00H129.25M126.25,1152.00V1158.00" stroke="#0000ff" stroke-width="1" fill="none"/>
<path d="M174.00,1159.40H180.00M177.00,1156.40V1162.40" stroke="#0000ff" stroke-width="1" fill="none"/>
<path d="M224.75,1168.60H230.75M227.75,1165.60V1171.60" stroke="#0000ff" stroke-width="1" fill="none"/>
<path d="M275.50,1183.00H281.50M278.50,1180.00V1186.00" stroke="#0000ff" stroke-width="1" fill="none"/>
<path d="M326.25,1202.60H332.25M329.25,1199.60V1205.60" stroke="#0000ff" stroke-width="1" fill="none"/>
<path d="M377.00,1228.00H383.00M380.00,1225.00V1231.00" stroke="#0000ff" stroke-width="1" fill="none"/>
<path d="M427.75,1205.00H433.75M430.75,1202.00V1208.00" stroke="#0000ff" stroke-width="1" fill="none"/>
<path d="M478.50,1167.40H484.50M481.50,1164.40V1170.40" stroke="#0000ff" stroke-width="1" fill="none"/>
<polyline points="75.50,1145.00 126.25,1158.00 177.00,1166.60 227.75,1173.60 278.50,1191.40 329.25,1163.00 380.00,1204.60 430.75,1150.60 481.50,1169.60" fill="none" stroke="#008000" stroke-width="1.3" stroke-linejoin="round"/>
<circle cx="75.50" cy="1145.00" r="2.9" fill="#008000" stroke="#000" stroke-width="0.8"/>
<circle cx="126.25" cy="1158.00" r="2.9" fill="#008000" stroke="#000" stroke-width="0.8"/>
<circle cx="177.00" cy="1166.60" r="2.9" fill="#008000" stroke="#000" stroke-width="0.8"/>
<circle cx="227.75" cy="1173.60" r="2.9" fill="#008000" stroke="#000" stroke-width="0.8"/>
<circle cx="278.50" cy="1191.40" r="2.9" fill="#008000" stroke="#000" stroke-width="0.8"/>
<circle cx="329.25" cy="1163.00" r="2.9" fill="#008000" stroke="#000" stroke-width="0.8"/>
<circle cx="380.00" cy="1204.60" r="2.9" fill="#008000" stroke="#000" stroke-width="0.8"/>
<circle cx="430.75" cy="1150.60" r="2.9" fill="#008000" stroke="#000" stroke-width="0.8"/>
<circle cx="481.50" cy="1169.60" r="2.9" fill="#008000" stroke="#000" stroke-width="0.8"/>
<polyline points="75.50,1145.60 126.25,1179.40 177.00,1171.00 227.75,1188.40 278.50,1173.60 329.25,1166.40 380.00,1180.00 430.75,1192.60 481.50,1159.00" fill="none" stroke="#ffa500" stroke-width="1.3" stroke-linejoin="round"/>
<path d="M75.50,1142.30L78.50,1148.20L72.50,1148.20Z" fill="#ffa500" stroke="#000" stroke-width="0.8"/>
<path d="M126.25,1176.10L129.25,1182.00L123.25,1182.00Z" fill="#ffa500" stroke="#000" stroke-width="0.8"/>
<path d="M177.00,1167.70L180.00,1173.60L174.00,1173.60Z" fill="#ffa500" stroke="#000" stroke-width="0.8"/>
<path d="M227.75,1185.10L230.75,1191.00L224.75,1191.00Z" fill="#ffa500" stroke="#000" stroke-width="0.8"/>
<path d="M278.50,1170.30L281.50,1176.20L275.50,1176.20Z" fill="#ffa500" stroke="#000" stroke-width="0.8"/>
<path d="M329.25,1163.10L332.25,1169.00L326.25,1169.00Z" fill="#ffa500" stroke="#000" stroke-width="0.8"/>
<path d="M380.00,1176.70L383.00,1182.60L377.00,1182.60Z" fill="#ffa500" stroke="#000" stroke-width="0.8"/>
<path d="M430.75,1189.30L433.75,1195.20L427.75,1195.20Z" fill="#ffa500" stroke="#000" stroke-width="0.8"/>
<path d="M481.50,1155.70L484.50,1161.60L478.50,1161.60Z" fill="#ffa500" stroke="#000" stroke-width="0.8"/>
<polyline points="75.50,1336.60 126.25,1336.40 177.00,1337.00 227.75,1338.40 278.50,1339.00 329.25,1338.60 380.00,1333.60 430.75,1333.60 481.50,1341.00" fill="none" stroke="#800080" stroke-width="1.3" stroke-linejoin="round"/>
<path d="M75.50,1339.90L78.50,1334.00L72.50,1334.00Z" fill="#800080" stroke="#000" stroke-width="0.8"/>
<path d="M126.25,1339.70L129.25,1333.80L123.25,1333.80Z" fill="#800080" stroke="#000" stroke-width="0.8"/>
<path d="M177.00,1340.30L180.00,1334.40L174.00,1334.40Z" fill="#800080" stroke="#000" stroke-width="0.8"/>
<path d="M227.75,1341.70L230.75,1335.80L224.75,1335.80Z" fill="#800080" stroke="#000" stroke-width="0.8"/>
<path d="M278.50,1342.30L281.50,1336.40L275.50,1336.40Z" fill="#800080" stroke="#000" stroke-width="0.8"/>
<path d="M329.25,1341.90L332.25,1336.00L326.25,1336.00Z" fill="#800080" stroke="#000" stroke-width="0.8"/>
<path d="M380.00,1336.90L383.00,1331.00L377.00,1331.00Z" fill="#800080" stroke="#000" stroke-width="0.8"/>
<path d="M430.75,1336.90L433.75,1331.00L427.75,1331.00Z" fill="#800080" stroke="#000" stroke-width="0.8"/>
<path d="M481.50,1344.30L484.50,1338.40L478.50,1338.40Z" fill="#800080" stroke="#000" stroke-width="0.8"/>
</g>
<rect x="75.50" y="1077.00" width="406.00" height="304.00" fill="none" stroke="#000" stroke-width="1"/>
<path d="M126.25,1381.00v-3.2M126.25,1077.00v3.2M177.00,1381.00v-3.2M177.00,1077.00v3.2M227.75,1381.00v-3.2M227.75,1077.00v3.2M278.50,1381.00v-3.2M278.50,1077.00v3.2M329.25,1381.00v-3.2M329.25,1077.00v3.2M380.00,1381.00v-3.2M380.00,1077.00v3.2M430.75,1381.00v-3.2M430.75,1077.00v3.2M75.50,1330.33h3.2M481.50,1330.33h-3.2M75.50,1279.67h3.2M481.50,1279.67h-3.2M75.50,1229.00h3.2M481.50,1229.00h-3.2M75.50,1178.33h3.2M481.50,1178.33h-3.2M75.50,1127.67h3.2M481.50,1127.67h-3.2" stroke="#000" stroke-width="1" fill="none"/>
<text x="72.60" y="1386.50" class="tl" text-anchor="end">0.12</text>
<text x="72.60" y="1335.83" class="tl" text-anchor="end">0.14</text>
<text x="72.60" y="1285.17" class="tl" text-anchor="end">0.16</text>
<text x="72.60" y="1234.50" class="tl" text-anchor="end">0.18</text>
<text x="72.60" y="1183.83" class="tl" text-anchor="end">0.20</text>
<text x="72.60" y="1133.17" class="tl" text-anchor="end">0.22</text>
<text x="72.60" y="1082.50" class="tl" text-anchor="end">0.24</text>
<text x="75.50" y="1399.00" class="tl" text-anchor="middle">0.1</text>
<text x="126.25" y="1399.00" class="tl" text-anchor="middle">0.2</text>
<text x="177.00" y="1399.00" class="tl" text-anchor="middle">0.3</text>
<text x="227.75" y="1399.00" class="tl" text-anchor="middle">0.4</text>
<text x="278.50" y="1399.00" class="tl" text-anchor="middle">0.5</text>
<text x="329.25" y="1399.00" class="tl" text-anchor="middle">0.6</text>
<text x="380.00" y="1399.00" class="tl" text-anchor="middle">0.7</text>
<text x="430.75" y="1399.00" class="tl" text-anchor="middle">0.8</text>
<text x="481.50" y="1399.00" class="tl" text-anchor="middle">0.9</text>
<text x="64.60" y="1428.00" class="xl" textLength="428.9" lengthAdjust="spacingAndGlyphs">Fraction of Labeled Training Data</text>
<text transform="translate(20.50,1229.00) rotate(-90)" class="yl" text-anchor="middle" textLength="67" lengthAdjust="spacingAndGlyphs">Score</text>
<path d="M319.00,1244.60h37.7" stroke="#ff4d4d" stroke-width="1.4" fill="none"/>
<path d="M337.85,1240.60L340.35,1244.60L337.85,1248.60L335.35,1244.60Z" fill="#ff0000" stroke="#000" stroke-width="0.8"/>
<text x="371.00" y="1251.20" class="lg">SDNE</text>
<path d="M319.00,1271.85h37.7" stroke="#1a1aff" stroke-width="1.4" fill="none"/>
<path d="M334.85,1271.85H340.85M337.85,1268.85V1274.85" stroke="#0000ff" stroke-width="1" fill="none"/>
<text x="371.00" y="1278.45" class="lg">DeepWalk</text>
<path d="M319.00,1299.10h37.7" stroke="#1a8a1a" stroke-width="1.4" fill="none"/>
<circle cx="337.85" cy="1299.10" r="2.9" fill="#008000" stroke="#000" stroke-width="0.8"/>
<text x="371.00" y="1305.70" class="lg">N2V-S</text>
<path d="M319.00,1326.35h37.7" stroke="#ffbb44" stroke-width="1.4" fill="none"/>
<path d="M337.85,1323.05L340.85,1328.95L334.85,1328.95Z" fill="#ffa500" stroke="#000" stroke-width="0.8"/>
<text x="371.00" y="1332.95" class="lg">N2V-H</text>
<path d="M319.00,1353.60h37.7" stroke="#a040a8" stroke-width="1.4" fill="none"/>
<path d="M337.85,1356.90L340.85,1351.00L334.85,1351.00Z" fill="#800080" stroke="#000" stroke-width="0.8"/>
<text x="371.00" y="1360.20" class="lg">PD</text>
<text x="17.45" y="1505.20" class="capb" textLength="44.93" lengthAdjust="spacingAndGlyphs">(i)</text>
<text x="77.69" y="1505.20" class="cap" textLength="393.52" lengthAdjust="spacingAndGlyphs">Macro Openflights</text>
<g clip-path="url(#c9)">
<polygon points="587.50,1236.90 638.25,1239.77 689.00,1202.83 739.75,1235.87 790.50,1198.72 841.25,1218.43 892.00,1259.89 942.75,1183.53 993.50,1163.83 993.50,1286.98 942.75,1294.37 892.00,1272.20 841.25,1241.00 790.50,1250.03 739.75,1350.81 689.00,1379.34 638.25,1258.24 587.50,1286.16" fill="#ff0000" fill-opacity="0.1"/>
<polygon points="587.50,1237.31 638.25,1203.03 689.00,1178.40 739.75,1171.63 790.50,1149.67 841.25,1143.30 892.00,1154.80 942.75,1169.57 993.50,1115.18 993.50,1217.81 942.75,1210.63 892.00,1195.85 841.25,1184.35 790.50,1170.19 739.75,1183.94 689.00,1190.72 638.25,1227.66 587.50,1266.04" fill="#0000ff" fill-opacity="0.1"/>
<polygon points="587.50,1199.34 638.25,1194.21 689.00,1175.73 739.75,1174.30 790.50,1147.41 841.25,1180.86 892.00,1130.17 942.75,1158.29 993.50,1081.73 993.50,1172.04 942.75,1191.13 892.00,1179.43 841.25,1193.18 790.50,1178.20 739.75,1186.61 689.00,1188.05 638.25,1214.73 587.50,1232.18" fill="#008000" fill-opacity="0.1"/>
<polygon points="587.50,1191.74 638.25,1192.77 689.00,1191.13 739.75,1187.64 790.50,1162.39 841.25,1160.75 892.00,1152.54 942.75,1124.01 993.50,1146.38 993.50,1171.01 942.75,1140.43 892.00,1197.69 841.25,1181.27 790.50,1178.81 739.75,1195.85 689.00,1199.34 638.25,1213.29 587.50,1253.32" fill="#ffa500" fill-opacity="0.1"/>
<polygon points="587.50,1164.03 638.25,1161.98 689.00,1161.36 739.75,1162.39 790.50,1165.47 841.25,1163.83 892.00,1138.79 942.75,1139.81 993.50,1164.44 993.50,1205.49 942.75,1172.65 892.00,1167.52 841.25,1188.46 790.50,1190.10 739.75,1187.02 689.00,1175.73 638.25,1172.24 587.50,1172.24" fill="#800080" fill-opacity="0.1"/>
<polyline points="587.50,1261.53 638.25,1249.01 689.00,1291.09 739.75,1293.34 790.50,1224.38 841.25,1229.71 892.00,1266.04 942.75,1238.95 993.50,1225.40" fill="none" stroke="#ff0000" stroke-width="1.3" stroke-linejoin="round"/>
<path d="M587.50,1257.53L590.00,1261.53L587.50,1265.53L585.00,1261.53Z" fill="#ff0000" stroke="#000" stroke-width="0.8"/>
<path d="M638.25,1245.01L640.75,1249.01L638.25,1253.01L635.75,1249.01Z" fill="#ff0000" stroke="#000" stroke-width="0.8"/>
<path d="M689.00,1287.09L691.50,1291.09L689.00,1295.09L686.50,1291.09Z" fill="#ff0000" stroke="#000" stroke-width="0.8"/>
<path d="M739.75,1289.34L742.25,1293.34L739.75,1297.34L737.25,1293.34Z" fill="#ff0000" stroke="#000" stroke-width="0.8"/>
<path d="M790.50,1220.38L793.00,1224.38L790.50,1228.38L788.00,1224.38Z" fill="#ff0000" stroke="#000" stroke-width="0.8"/>
<path d="M841.25,1225.71L843.75,1229.71L841.25,1233.71L838.75,1229.71Z" fill="#ff0000" stroke="#000" stroke-width="0.8"/>
<path d="M892.00,1262.04L894.50,1266.04L892.00,1270.04L889.50,1266.04Z" fill="#ff0000" stroke="#000" stroke-width="0.8"/>
<path d="M942.75,1234.95L945.25,1238.95L942.75,1242.95L940.25,1238.95Z" fill="#ff0000" stroke="#000" stroke-width="0.8"/>
<path d="M993.50,1221.40L996.00,1225.40L993.50,1229.40L991.00,1225.40Z" fill="#ff0000" stroke="#000" stroke-width="0.8"/>
<polyline points="587.50,1251.68 638.25,1215.35 689.00,1184.56 739.75,1177.78 790.50,1159.93 841.25,1163.83 892.00,1175.32 942.75,1190.10 993.50,1166.50" fill="none" stroke="#0000ff" stroke-width="1.3" stroke-linejoin="round"/>
<path d="M584.50,1251.68H590.50M587.50,1248.68V1254.68" stroke="#0000ff" stroke-width="1" fill="none"/>
<path d="M635.25,1215.35H641.25M638.25,1212.35V1218.35" stroke="#0000ff" stroke-width="1" fill="none"/>
<path d="M686.00,1184.56H692.00M689.00,1181.56V1187.56" stroke="#0000ff" stroke-width="1" fill="none"/>
<path d="M736.75,1177.78H742.75M739.75,1174.78V1180.78" stroke="#0000ff" stroke-width="1" fill="none"/>
<path d="M787.50,1159.93H793.50M790.50,1156.93V1162.93" stroke="#0000ff" stroke-width="1" fill="none"/>
<path d="M838.25,1163.83H844.25M841.25,1160.83V1166.83" stroke="#0000ff" stroke-width="1" fill="none"/>
<path d="M889.00,1175.32H895.00M892.00,1172.32V1178.32" stroke="#0000ff" stroke-width="1" fill="none"/>
<path d="M939.75,1190.10H945.75M942.75,1187.10V1193.10" stroke="#0000ff" stroke-width="1" fill="none"/>
<path d="M990.50,1166.50H996.50M993.50,1163.50V1169.50" stroke="#0000ff" stroke-width="1" fill="none"/>
<polyline points="587.50,1215.76 638.25,1204.47 689.00,1181.89 739.75,1180.45 790.50,1162.80 841.25,1187.02 892.00,1154.80 942.75,1174.71 993.50,1126.88" fill="none" stroke="#008000" stroke-width="1.3" stroke-linejoin="round"/>
<circle cx="587.50" cy="1215.76" r="2.9" fill="#008000" stroke="#000" stroke-width="0.8"/>
<circle cx="638.25" cy="1204.47" r="2.9" fill="#008000" stroke="#000" stroke-width="0.8"/>
<circle cx="689.00" cy="1181.89" r="2.9" fill="#008000" stroke="#000" stroke-width="0.8"/>
<circle cx="739.75" cy="1180.45" r="2.9" fill="#008000" stroke="#000" stroke-width="0.8"/>
<circle cx="790.50" cy="1162.80" r="2.9" fill="#008000" stroke="#000" stroke-width="0.8"/>
<circle cx="841.25" cy="1187.02" r="2.9" fill="#008000" stroke="#000" stroke-width="0.8"/>
<circle cx="892.00" cy="1154.80" r="2.9" fill="#008000" stroke="#000" stroke-width="0.8"/>
<circle cx="942.75" cy="1174.71" r="2.9" fill="#008000" stroke="#000" stroke-width="0.8"/>
<circle cx="993.50" cy="1126.88" r="2.9" fill="#008000" stroke="#000" stroke-width="0.8"/>
<polyline points="587.50,1222.53 638.25,1203.03 689.00,1195.23 739.75,1191.74 790.50,1170.60 841.25,1171.01 892.00,1175.12 942.75,1132.22 993.50,1158.70" fill="none" stroke="#ffa500" stroke-width="1.3" stroke-linejoin="round"/>
<path d="M587.50,1219.23L590.50,1225.13L584.50,1225.13Z" fill="#ffa500" stroke="#000" stroke-width="0.8"/>
<path d="M638.25,1199.73L641.25,1205.63L635.25,1205.63Z" fill="#ffa500" stroke="#000" stroke-width="0.8"/>
<path d="M689.00,1191.93L692.00,1197.83L686.00,1197.83Z" fill="#ffa500" stroke="#000" stroke-width="0.8"/>
<path d="M739.75,1188.44L742.75,1194.34L736.75,1194.34Z" fill="#ffa500" stroke="#000" stroke-width="0.8"/>
<path d="M790.50,1167.30L793.50,1173.20L787.50,1173.20Z" fill="#ffa500" stroke="#000" stroke-width="0.8"/>
<path d="M841.25,1167.71L844.25,1173.61L838.25,1173.61Z" fill="#ffa500" stroke="#000" stroke-width="0.8"/>
<path d="M892.00,1171.82L895.00,1177.72L889.00,1177.72Z" fill="#ffa500" stroke="#000" stroke-width="0.8"/>
<path d="M942.75,1128.92L945.75,1134.82L939.75,1134.82Z" fill="#ffa500" stroke="#000" stroke-width="0.8"/>
<path d="M993.50,1155.40L996.50,1161.30L990.50,1161.30Z" fill="#ffa500" stroke="#000" stroke-width="0.8"/>
<polyline points="587.50,1168.14 638.25,1167.11 689.00,1168.55 739.75,1174.71 790.50,1177.78 841.25,1176.14 892.00,1153.15 942.75,1156.23 993.50,1184.97" fill="none" stroke="#800080" stroke-width="1.3" stroke-linejoin="round"/>
<path d="M587.50,1171.44L590.50,1165.54L584.50,1165.54Z" fill="#800080" stroke="#000" stroke-width="0.8"/>
<path d="M638.25,1170.41L641.25,1164.51L635.25,1164.51Z" fill="#800080" stroke="#000" stroke-width="0.8"/>
<path d="M689.00,1171.85L692.00,1165.95L686.00,1165.95Z" fill="#800080" stroke="#000" stroke-width="0.8"/>
<path d="M739.75,1178.01L742.75,1172.11L736.75,1172.11Z" fill="#800080" stroke="#000" stroke-width="0.8"/>
<path d="M790.50,1181.08L793.50,1175.18L787.50,1175.18Z" fill="#800080" stroke="#000" stroke-width="0.8"/>
<path d="M841.25,1179.44L844.25,1173.54L838.25,1173.54Z" fill="#800080" stroke="#000" stroke-width="0.8"/>
<path d="M892.00,1156.45L895.00,1150.55L889.00,1150.55Z" fill="#800080" stroke="#000" stroke-width="0.8"/>
<path d="M942.75,1159.53L945.75,1153.63L939.75,1153.63Z" fill="#800080" stroke="#000" stroke-width="0.8"/>
<path d="M993.50,1188.27L996.50,1182.37L990.50,1182.37Z" fill="#800080" stroke="#000" stroke-width="0.8"/>
</g>
<rect x="587.50" y="1068.70" width="406.00" height="312.30" fill="none" stroke="#000" stroke-width="1"/>
<path d="M638.25,1381.00v-3.2M638.25,1068.70v3.2M689.00,1381.00v-3.2M689.00,1068.70v3.2M739.75,1381.00v-3.2M739.75,1068.70v3.2M790.50,1381.00v-3.2M790.50,1068.70v3.2M841.25,1381.00v-3.2M841.25,1068.70v3.2M892.00,1381.00v-3.2M892.00,1068.70v3.2M942.75,1381.00v-3.2M942.75,1068.70v3.2M587.50,1294.25h3.2M993.50,1294.25h-3.2M587.50,1207.50h3.2M993.50,1207.50h-3.2M587.50,1120.75h3.2M993.50,1120.75h-3.2" stroke="#000" stroke-width="1" fill="none"/>
<text x="584.60" y="1386.50" class="tl" text-anchor="end">0.40</text>
<text x="584.60" y="1299.75" class="tl" text-anchor="end">0.45</text>
<text x="584.60" y="1213.00" class="tl" text-anchor="end">0.50</text>
<text x="584.60" y="1126.25" class="tl" text-anchor="end">0.55</text>
<text x="587.50" y="1399.00" class="tl" text-anchor="middle">0.1</text>
<text x="638.25" y="1399.00" class="tl" text-anchor="middle">0.2</text>
<text x="689.00" y="1399.00" class="tl" text-anchor="middle">0.3</text>
<text x="739.75" y="1399.00" class="tl" text-anchor="middle">0.4</text>
<text x="790.50" y="1399.00" class="tl" text-anchor="middle">0.5</text>
<text x="841.25" y="1399.00" class="tl" text-anchor="middle">0.6</text>
<text x="892.00" y="1399.00" class="tl" text-anchor="middle">0.7</text>
<text x="942.75" y="1399.00" class="tl" text-anchor="middle">0.8</text>
<text x="993.50" y="1399.00" class="tl" text-anchor="middle">0.9</text>
<text x="576.60" y="1428.00" class="xl" textLength="428.9" lengthAdjust="spacingAndGlyphs">Fraction of Labeled Training Data</text>
<text transform="translate(532.50,1224.85) rotate(-90)" class="yl" text-anchor="middle" textLength="67" lengthAdjust="spacingAndGlyphs">Score</text>
<path d="M717.70,1244.50h37.7" stroke="#ff4d4d" stroke-width="1.4" fill="none"/>
<path d="M736.55,1240.50L739.05,1244.50L736.55,1248.50L734.05,1244.50Z" fill="#ff0000" stroke="#000" stroke-width="0.8"/>
<text x="769.70" y="1251.10" class="lg">SDNE</text>
<path d="M717.70,1271.80h37.7" stroke="#1a1aff" stroke-width="1.4" fill="none"/>
<path d="M733.55,1271.80H739.55M736.55,1268.80V1274.80" stroke="#0000ff" stroke-width="1" fill="none"/>
<text x="769.70" y="1278.40" class="lg">DeepWalk</text>
<path d="M717.70,1299.10h37.7" stroke="#1a8a1a" stroke-width="1.4" fill="none"/>
<circle cx="736.55" cy="1299.10" r="2.9" fill="#008000" stroke="#000" stroke-width="0.8"/>
<text x="769.70" y="1305.70" class="lg">N2V-S</text>
<path d="M717.70,1326.40h37.7" stroke="#ffbb44" stroke-width="1.4" fill="none"/>
<path d="M736.55,1323.10L739.55,1329.00L733.55,1329.00Z" fill="#ffa500" stroke="#000" stroke-width="0.8"/>
<text x="769.70" y="1333.00" class="lg">N2V-H</text>
<path d="M717.70,1353.70h37.7" stroke="#a040a8" stroke-width="1.4" fill="none"/>
<path d="M736.55,1357.00L739.55,1351.10L733.55,1351.10Z" fill="#800080" stroke="#000" stroke-width="0.8"/>
<text x="769.70" y="1360.30" class="lg">PD</text>
<text x="534.48" y="1505.20" class="capb" textLength="46.45" lengthAdjust="spacingAndGlyphs">(j)</text>
<text x="597.38" y="1505.20" class="cap" textLength="383.45" lengthAdjust="spacingAndGlyphs">Micro Openflights</text>
<g clip-path="url(#c10)">
<polygon points="1099.50,1294.00 1150.25,1293.60 1201.00,1298.00 1251.75,1287.00 1302.50,1282.00 1353.25,1161.40 1404.00,1159.00 1454.75,1277.60 1505.50,1256.00 1505.50,1324.00 1454.75,1317.60 1404.00,1319.00 1353.25,1321.40 1302.50,1300.00 1251.75,1299.00 1201.00,1306.00 1150.25,1303.60 1099.50,1304.00" fill="#ff0000" fill-opacity="0.1"/>
<polygon points="1099.50,1271.00 1150.25,1288.00 1201.00,1257.60 1251.75,1291.60 1302.50,1279.60 1353.25,1277.60 1404.00,1139.60 1454.75,1109.00 1505.50,1094.00 1505.50,1116.00 1454.75,1123.00 1404.00,1327.60 1353.25,1297.60 1302.50,1299.60 1251.75,1303.60 1201.00,1293.60 1150.25,1300.00 1099.50,1287.00" fill="#0000ff" fill-opacity="0.1"/>
<polygon points="1099.50,1274.40 1150.25,1286.60 1201.00,1295.00 1251.75,1292.40 1302.50,1292.00 1353.25,1102.40 1404.00,1157.00 1454.75,1160.00 1505.50,1099.00 1505.50,1259.00 1454.75,1320.00 1404.00,1317.00 1353.25,1250.40 1302.50,1300.00 1251.75,1300.40 1201.00,1301.00 1150.25,1296.60 1099.50,1286.40" fill="#008000" fill-opacity="0.1"/>
<polygon points="1099.50,1243.60 1150.25,1285.60 1201.00,1293.00 1251.75,1283.60 1302.50,1283.60 1353.25,1152.00 1404.00,1278.60 1454.75,1162.00 1505.50,1172.00 1505.50,1324.00 1454.75,1322.00 1404.00,1316.60 1353.25,1210.00 1302.50,1299.60 1251.75,1299.60 1201.00,1305.00 1150.25,1301.60 1099.50,1287.60" fill="#ffa500" fill-opacity="0.1"/>
<polygon points="1099.50,1302.40 1150.25,1302.40 1201.00,1304.00 1251.75,1302.00 1302.50,1302.60 1353.25,1186.60 1404.00,1108.00 1454.75,1108.00 1505.50,1166.60 1505.50,1338.60 1454.75,1268.00 1404.00,1276.00 1353.25,1306.60 1302.50,1306.60 1251.75,1306.00 1201.00,1308.00 1150.25,1306.40 1099.50,1306.40" fill="#800080" fill-opacity="0.1"/>
<polyline points="1099.50,1299.00 1150.25,1298.60 1201.00,1302.00 1251.75,1293.00 1302.50,1291.00 1353.25,1241.40 1404.00,1239.00 1454.75,1297.60 1505.50,1290.00" fill="none" stroke="#ff0000" stroke-width="1.3" stroke-linejoin="round"/>
<path d="M1099.50,1295.00L1102.00,1299.00L1099.50,1303.00L1097.00,1299.00Z" fill="#ff0000" stroke="#000" stroke-width="0.8"/>
<path d="M1150.25,1294.60L1152.75,1298.60L1150.25,1302.60L1147.75,1298.60Z" fill="#ff0000" stroke="#000" stroke-width="0.8"/>
<path d="M1201.00,1298.00L1203.50,1302.00L1201.00,1306.00L1198.50,1302.00Z" fill="#ff0000" stroke="#000" stroke-width="0.8"/>
<path d="M1251.75,1289.00L1254.25,1293.00L1251.75,1297.00L1249.25,1293.00Z" fill="#ff0000" stroke="#000" stroke-width="0.8"/>
<path d="M1302.50,1287.00L1305.00,1291.00L1302.50,1295.00L1300.00,1291.00Z" fill="#ff0000" stroke="#000" stroke-width="0.8"/>
<path d="M1353.25,1237.40L1355.75,1241.40L1353.25,1245.40L1350.75,1241.40Z" fill="#ff0000" stroke="#000" stroke-width="0.8"/>
<path d="M1404.00,1235.00L1406.50,1239.00L1404.00,1243.00L1401.50,1239.00Z" fill="#ff0000" stroke="#000" stroke-width="0.8"/>
<path d="M1454.75,1293.60L1457.25,1297.60L1454.75,1301.60L1452.25,1297.60Z" fill="#ff0000" stroke="#000" stroke-width="0.8"/>
<path d="M1505.50,1286.00L1508.00,1290.00L1505.50,1294.00L1503.00,1290.00Z" fill="#ff0000" stroke="#000" stroke-width="0.8"/>
<polyline points="1099.50,1279.00 1150.25,1294.00 1201.00,1275.60 1251.75,1297.60 1302.50,1289.60 1353.25,1287.60 1404.00,1233.60 1454.75,1116.00 1505.50,1105.00" fill="none" stroke="#0000ff" stroke-width="1.3" stroke-linejoin="round"/>
<path d="M1096.50,1279.00H1102.50M1099.50,1276.00V1282.00" stroke="#0000ff" stroke-width="1" fill="none"/>
<path d="M1147.25,1294.00H1153.25M1150.25,1291.00V1297.00" stroke="#0000ff" stroke-width="1" fill="none"/>
<path d="M1198.00,1275.60H1204.00M1201.00,1272.60V1278.60" stroke="#0000ff" stroke-width="1" fill="none"/>
<path d="M1248.75,1297.60H1254.75M1251.75,1294.60V1300.60" stroke="#0000ff" stroke-width="1" fill="none"/>
<path d="M1299.50,1289.60H1305.50M1302.50,1286.60V1292.60" stroke="#0000ff" stroke-width="1" fill="none"/>
<path d="M1350.25,1287.60H1356.25M1353.25,1284.60V1290.60" stroke="#0000ff" stroke-width="1" fill="none"/>
<path d="M1401.00,1233.60H1407.00M1404.00,1230.60V1236.60" stroke="#0000ff" stroke-width="1" fill="none"/>
<path d="M1451.75,1116.00H1457.75M1454.75,1113.00V1119.00" stroke="#0000ff" stroke-width="1" fill="none"/>
<path d="M1502.50,1105.00H1508.50M1505.50,1102.00V1108.00" stroke="#0000ff" stroke-width="1" fill="none"/>
<polyline points="1099.50,1280.40 1150.25,1291.60 1201.00,1298.00 1251.75,1296.40 1302.50,1296.00 1353.25,1176.40 1404.00,1237.00 1454.75,1240.00 1505.50,1179.00" fill="none" stroke="#008000" stroke-width="1.3" stroke-linejoin="round"/>
<circle cx="1099.50" cy="1280.40" r="2.9" fill="#008000" stroke="#000" stroke-width="0.8"/>
<circle cx="1150.25" cy="1291.60" r="2.9" fill="#008000" stroke="#000" stroke-width="0.8"/>
<circle cx="1201.00" cy="1298.00" r="2.9" fill="#008000" stroke="#000" stroke-width="0.8"/>
<circle cx="1251.75" cy="1296.40" r="2.9" fill="#008000" stroke="#000" stroke-width="0.8"/>
<circle cx="1302.50" cy="1296.00" r="2.9" fill="#008000" stroke="#000" stroke-width="0.8"/>
<circle cx="1353.25" cy="1176.40" r="2.9" fill="#008000" stroke="#000" stroke-width="0.8"/>
<circle cx="1404.00" cy="1237.00" r="2.9" fill="#008000" stroke="#000" stroke-width="0.8"/>
<circle cx="1454.75" cy="1240.00" r="2.9" fill="#008000" stroke="#000" stroke-width="0.8"/>
<circle cx="1505.50" cy="1179.00" r="2.9" fill="#008000" stroke="#000" stroke-width="0.8"/>
<polyline points="1099.50,1265.60 1150.25,1293.60 1201.00,1299.00 1251.75,1291.60 1302.50,1291.60 1353.25,1181.00 1404.00,1297.60 1454.75,1242.00 1505.50,1248.00" fill="none" stroke="#ffa500" stroke-width="1.3" stroke-linejoin="round"/>
<path d="M1099.50,1262.30L1102.50,1268.20L1096.50,1268.20Z" fill="#ffa500" stroke="#000" stroke-width="0.8"/>
<path d="M1150.25,1290.30L1153.25,1296.20L1147.25,1296.20Z" fill="#ffa500" stroke="#000" stroke-width="0.8"/>
<path d="M1201.00,1295.70L1204.00,1301.60L1198.00,1301.60Z" fill="#ffa500" stroke="#000" stroke-width="0.8"/>
<path d="M1251.75,1288.30L1254.75,1294.20L1248.75,1294.20Z" fill="#ffa500" stroke="#000" stroke-width="0.8"/>
<path d="M1302.50,1288.30L1305.50,1294.20L1299.50,1294.20Z" fill="#ffa500" stroke="#000" stroke-width="0.8"/>
<path d="M1353.25,1177.70L1356.25,1183.60L1350.25,1183.60Z" fill="#ffa500" stroke="#000" stroke-width="0.8"/>
<path d="M1404.00,1294.30L1407.00,1300.20L1401.00,1300.20Z" fill="#ffa500" stroke="#000" stroke-width="0.8"/>
<path d="M1454.75,1238.70L1457.75,1244.60L1451.75,1244.60Z" fill="#ffa500" stroke="#000" stroke-width="0.8"/>
<path d="M1505.50,1244.70L1508.50,1250.60L1502.50,1250.60Z" fill="#ffa500" stroke="#000" stroke-width="0.8"/>
<polyline points="1099.50,1304.40 1150.25,1304.40 1201.00,1306.00 1251.75,1304.00 1302.50,1304.60 1353.25,1246.60 1404.00,1192.00 1454.75,1188.00 1505.50,1252.60" fill="none" stroke="#800080" stroke-width="1.3" stroke-linejoin="round"/>
<path d="M1099.50,1307.70L1102.50,1301.80L1096.50,1301.80Z" fill="#800080" stroke="#000" stroke-width="0.8"/>
<path d="M1150.25,1307.70L1153.25,1301.80L1147.25,1301.80Z" fill="#800080" stroke="#000" stroke-width="0.8"/>
<path d="M1201.00,1309.30L1204.00,1303.40L1198.00,1303.40Z" fill="#800080" stroke="#000" stroke-width="0.8"/>
<path d="M1251.75,1307.30L1254.75,1301.40L1248.75,1301.40Z" fill="#800080" stroke="#000" stroke-width="0.8"/>
<path d="M1302.50,1307.90L1305.50,1302.00L1299.50,1302.00Z" fill="#800080" stroke="#000" stroke-width="0.8"/>
<path d="M1353.25,1249.90L1356.25,1244.00L1350.25,1244.00Z" fill="#800080" stroke="#000" stroke-width="0.8"/>
<path d="M1404.00,1195.30L1407.00,1189.40L1401.00,1189.40Z" fill="#800080" stroke="#000" stroke-width="0.8"/>
<path d="M1454.75,1191.30L1457.75,1185.40L1451.75,1185.40Z" fill="#800080" stroke="#000" stroke-width="0.8"/>
<path d="M1505.50,1255.90L1508.50,1250.00L1502.50,1250.00Z" fill="#800080" stroke="#000" stroke-width="0.8"/>
</g>
<rect x="1099.50" y="1077.00" width="406.00" height="304.00" fill="none" stroke="#000" stroke-width="1"/>
<path d="M1150.25,1381.00v-3.2M1150.25,1077.00v3.2M1201.00,1381.00v-3.2M1201.00,1077.00v3.2M1251.75,1381.00v-3.2M1251.75,1077.00v3.2M1302.50,1381.00v-3.2M1302.50,1077.00v3.2M1353.25,1381.00v-3.2M1353.25,1077.00v3.2M1404.00,1381.00v-3.2M1404.00,1077.00v3.2M1454.75,1381.00v-3.2M1454.75,1077.00v3.2M1099.50,1343.00h3.2M1505.50,1343.00h-3.2M1099.50,1305.00h3.2M1505.50,1305.00h-3.2M1099.50,1267.00h3.2M1505.50,1267.00h-3.2M1099.50,1229.00h3.2M1505.50,1229.00h-3.2M1099.50,1191.00h3.2M1505.50,1191.00h-3.2M1099.50,1153.00h3.2M1505.50,1153.00h-3.2M1099.50,1115.00h3.2M1505.50,1115.00h-3.2" stroke="#000" stroke-width="1" fill="none"/>
<text x="1096.60" y="1386.50" class="tl" text-anchor="end">0.16</text>
<text x="1096.60" y="1348.50" class="tl" text-anchor="end">0.17</text>
<text x="1096.60" y="1310.50" class="tl" text-anchor="end">0.18</text>
<text x="1096.60" y="1272.50" class="tl" text-anchor="end">0.19</text>
<text x="1096.60" y="1234.50" class="tl" text-anchor="end">0.20</text>
<text x="1096.60" y="1196.50" class="tl" text-anchor="end">0.21</text>
<text x="1096.60" y="1158.50" class="tl" text-anchor="end">0.22</text>
<text x="1096.60" y="1120.50" class="tl" text-anchor="end">0.23</text>
<text x="1096.60" y="1082.50" class="tl" text-anchor="end">0.24</text>
<text x="1099.50" y="1399.00" class="tl" text-anchor="middle">0.1</text>
<text x="1150.25" y="1399.00" class="tl" text-anchor="middle">0.2</text>
<text x="1201.00" y="1399.00" class="tl" text-anchor="middle">0.3</text>
<text x="1251.75" y="1399.00" class="tl" text-anchor="middle">0.4</text>
<text x="1302.50" y="1399.00" class="tl" text-anchor="middle">0.5</text>
<text x="1353.25" y="1399.00" class="tl" text-anchor="middle">0.6</text>
<text x="1404.00" y="1399.00" class="tl" text-anchor="middle">0.7</text>
<text x="1454.75" y="1399.00" class="tl" text-anchor="middle">0.8</text>
<text x="1505.50" y="1399.00" class="tl" text-anchor="middle">0.9</text>
<text x="1088.60" y="1428.00" class="xl" textLength="428.9" lengthAdjust="spacingAndGlyphs">Fraction of Labeled Training Data</text>
<text transform="translate(1044.50,1229.00) rotate(-90)" class="yl" text-anchor="middle" textLength="67" lengthAdjust="spacingAndGlyphs">Score</text>
<path d="M1116.00,1101.40h37.7" stroke="#ff4d4d" stroke-width="1.4" fill="none"/>
<path d="M1134.85,1097.40L1137.35,1101.40L1134.85,1105.40L1132.35,1101.40Z" fill="#ff0000" stroke="#000" stroke-width="0.8"/>
<text x="1168.00" y="1108.00" class="lg">SDNE</text>
<path d="M1116.00,1128.65h37.7" stroke="#1a1aff" stroke-width="1.4" fill="none"/>
<path d="M1131.85,1128.65H1137.85M1134.85,1125.65V1131.65" stroke="#0000ff" stroke-width="1" fill="none"/>
<text x="1168.00" y="1135.25" class="lg">DeepWalk</text>
<path d="M1116.00,1155.90h37.7" stroke="#1a8a1a" stroke-width="1.4" fill="none"/>
<circle cx="1134.85" cy="1155.90" r="2.9" fill="#008000" stroke="#000" stroke-width="0.8"/>
<text x="1168.00" y="1162.50" class="lg">N2V-S</text>
<path d="M1116.00,1183.15h37.7" stroke="#ffbb44" stroke-width="1.4" fill="none"/>
<path d="M1134.85,1179.85L1137.85,1185.75L1131.85,1185.75Z" fill="#ffa500" stroke="#000" stroke-width="0.8"/>
<text x="1168.00" y="1189.75" class="lg">N2V-H</text>
<path d="M1116.00,1210.40h37.7" stroke="#a040a8" stroke-width="1.4" fill="none"/>
<path d="M1134.85,1213.70L1137.85,1207.80L1131.85,1207.80Z" fill="#800080" stroke="#000" stroke-width="0.8"/>
<text x="1168.00" y="1217.00" class="lg">PD</text>
<text x="1048.07" y="1505.20" class="capb" textLength="57.81" lengthAdjust="spacingAndGlyphs">(k)</text>
<text x="1120.98" y="1505.20" class="cap" textLength="368.83" lengthAdjust="spacingAndGlyphs">Macro Bitcoinotc</text>
<g clip-path="url(#c11)">
<polygon points="1611.50,1180.60 1662.25,1176.00 1713.00,1218.60 1763.75,1175.40 1814.50,1175.00 1865.25,1186.40 1916.00,1176.60 1966.75,1165.00 2017.50,1148.00 2017.50,1260.00 1966.75,1301.00 1916.00,1216.60 1865.25,1230.40 1814.50,1231.00 1763.75,1231.40 1713.00,1234.60 1662.25,1220.00 1611.50,1198.60" fill="#ff0000" fill-opacity="0.1"/>
<polygon points="1611.50,1211.00 1662.25,1189.00 1713.00,1181.60 1763.75,1186.40 1814.50,1197.00 1865.25,1163.40 1916.00,1168.40 1966.75,1103.60 2017.50,1186.00 2017.50,1266.00 1966.75,1211.60 1916.00,1248.40 1865.25,1215.40 1814.50,1217.00 1763.75,1206.40 1713.00,1201.60 1662.25,1205.00 1611.50,1243.00" fill="#0000ff" fill-opacity="0.1"/>
<polygon points="1611.50,1216.60 1662.25,1179.00 1713.00,1165.40 1763.75,1140.00 1814.50,1198.40 1865.25,1143.00 1916.00,1148.60 1966.75,1121.60 2017.50,1156.60 2017.50,1268.60 1966.75,1229.60 1916.00,1224.60 1865.25,1215.00 1814.50,1218.40 1763.75,1178.00 1713.00,1205.40 1662.25,1199.00 1611.50,1232.60" fill="#008000" fill-opacity="0.1"/>
<polygon points="1611.50,1196.00 1662.25,1159.60 1713.00,1202.00 1763.75,1169.60 1814.50,1181.00 1865.25,1151.60 1916.00,1157.00 1966.75,1161.60 2017.50,1182.60 2017.50,1294.60 1966.75,1221.60 1916.00,1245.00 1865.25,1203.60 1814.50,1213.00 1763.75,1227.60 1713.00,1226.00 1662.25,1191.60 1611.50,1220.00" fill="#ffa500" fill-opacity="0.1"/>
<polygon points="1611.50,1186.00 1662.25,1181.60 1713.00,1192.00 1763.75,1174.00 1814.50,1172.60 1865.25,1136.40 1916.00,1173.60 1966.75,1101.60 2017.50,1155.60 2017.50,1347.60 1966.75,1221.60 1916.00,1229.60 1865.25,1216.40 1814.50,1216.60 1763.75,1194.00 1713.00,1208.00 1662.25,1193.60 1611.50,1198.00" fill="#800080" fill-opacity="0.1"/>
<polyline points="1611.50,1189.60 1662.25,1198.00 1713.00,1226.60 1763.75,1203.40 1814.50,1203.00 1865.25,1208.40 1916.00,1196.60 1966.75,1233.00 2017.50,1204.00" fill="none" stroke="#ff0000" stroke-width="1.3" stroke-linejoin="round"/>
<path d="M1611.50,1185.60L1614.00,1189.60L1611.50,1193.60L1609.00,1189.60Z" fill="#ff0000" stroke="#000" stroke-width="0.8"/>
<path d="M1662.25,1194.00L1664.75,1198.00L1662.25,1202.00L1659.75,1198.00Z" fill="#ff0000" stroke="#000" stroke-width="0.8"/>
<path d="M1713.00,1222.60L1715.50,1226.60L1713.00,1230.60L1710.50,1226.60Z" fill="#ff0000" stroke="#000" stroke-width="0.8"/>
<path d="M1763.75,1199.40L1766.25,1203.40L1763.75,1207.40L1761.25,1203.40Z" fill="#ff0000" stroke="#000" stroke-width="0.8"/>
<path d="M1814.50,1199.00L1817.00,1203.00L1814.50,1207.00L1812.00,1203.00Z" fill="#ff0000" stroke="#000" stroke-width="0.8"/>
<path d="M1865.25,1204.40L1867.75,1208.40L1865.25,1212.40L1862.75,1208.40Z" fill="#ff0000" stroke="#000" stroke-width="0.8"/>
<path d="M1916.00,1192.60L1918.50,1196.60L1916.00,1200.60L1913.50,1196.60Z" fill="#ff0000" stroke="#000" stroke-width="0.8"/>
<path d="M1966.75,1229.00L1969.25,1233.00L1966.75,1237.00L1964.25,1233.00Z" fill="#ff0000" stroke="#000" stroke-width="0.8"/>
<path d="M2017.50,1200.00L2020.00,1204.00L2017.50,1208.00L2015.00,1204.00Z" fill="#ff0000" stroke="#000" stroke-width="0.8"/>
<polyline points="1611.50,1227.00 1662.25,1197.00 1713.00,1191.60 1763.75,1196.40 1814.50,1207.00 1865.25,1189.40 1916.00,1208.40 1966.75,1157.60 2017.50,1226.00" fill="none" stroke="#0000ff" stroke-width="1.3" stroke-linejoin="round"/>
<path d="M1608.50,1227.00H1614.50M1611.50,1224.00V1230.00" stroke="#0000ff" stroke-width="1" fill="none"/>
<path d="M1659.25,1197.00H1665.25M1662.25,1194.00V1200.00" stroke="#0000ff" stroke-width="1" fill="none"/>
<path d="M1710.00,1191.60H1716.00M1713.00,1188.60V1194.60" stroke="#0000ff" stroke-width="1" fill="none"/>
<path d="M1760.75,1196.40H1766.75M1763.75,1193.40V1199.40" stroke="#0000ff" stroke-width="1" fill="none"/>
<path d="M1811.50,1207.00H1817.50M1814.50,1204.00V1210.00" stroke="#0000ff" stroke-width="1" fill="none"/>
<path d="M1862.25,1189.40H1868.25M1865.25,1186.40V1192.40" stroke="#0000ff" stroke-width="1" fill="none"/>
<path d="M1913.00,1208.40H1919.00M1916.00,1205.40V1211.40" stroke="#0000ff" stroke-width="1" fill="none"/>
<path d="M1963.75,1157.60H1969.75M1966.75,1154.60V1160.60" stroke="#0000ff" stroke-width="1" fill="none"/>
<path d="M2014.50,1226.00H2020.50M2017.50,1223.00V1229.00" stroke="#0000ff" stroke-width="1" fill="none"/>
<polyline points="1611.50,1224.60 1662.25,1189.00 1713.00,1185.40 1763.75,1159.00 1814.50,1208.40 1865.25,1179.00 1916.00,1186.60 1966.75,1175.60 2017.50,1212.60" fill="none" stroke="#008000" stroke-width="1.3" stroke-linejoin="round"/>
<circle cx="1611.50" cy="1224.60" r="2.9" fill="#008000" stroke="#000" stroke-width="0.8"/>
<circle cx="1662.25" cy="1189.00" r="2.9" fill="#008000" stroke="#000" stroke-width="0.8"/>
<circle cx="1713.00" cy="1185.40" r="2.9" fill="#008000" stroke="#000" stroke-width="0.8"/>
<circle cx="1763.75" cy="1159.00" r="2.9" fill="#008000" stroke="#000" stroke-width="0.8"/>
<circle cx="1814.50" cy="1208.40" r="2.9" fill="#008000" stroke="#000" stroke-width="0.8"/>
<circle cx="1865.25" cy="1179.00" r="2.9" fill="#008000" stroke="#000" stroke-width="0.8"/>
<circle cx="1916.00" cy="1186.60" r="2.9" fill="#008000" stroke="#000" stroke-width="0.8"/>
<circle cx="1966.75" cy="1175.60" r="2.9" fill="#008000" stroke="#000" stroke-width="0.8"/>
<circle cx="2017.50" cy="1212.60" r="2.9" fill="#008000" stroke="#000" stroke-width="0.8"/>
<polyline points="1611.50,1208.00 1662.25,1175.60 1713.00,1214.00 1763.75,1198.60 1814.50,1197.00 1865.25,1177.60 1916.00,1201.00 1966.75,1191.60 2017.50,1238.60" fill="none" stroke="#ffa500" stroke-width="1.3" stroke-linejoin="round"/>
<path d="M1611.50,1204.70L1614.50,1210.60L1608.50,1210.60Z" fill="#ffa500" stroke="#000" stroke-width="0.8"/>
<path d="M1662.25,1172.30L1665.25,1178.20L1659.25,1178.20Z" fill="#ffa500" stroke="#000" stroke-width="0.8"/>
<path d="M1713.00,1210.70L1716.00,1216.60L1710.00,1216.60Z" fill="#ffa500" stroke="#000" stroke-width="0.8"/>
<path d="M1763.75,1195.30L1766.75,1201.20L1760.75,1201.20Z" fill="#ffa500" stroke="#000" stroke-width="0.8"/>
<path d="M1814.50,1193.70L1817.50,1199.60L1811.50,1199.60Z" fill="#ffa500" stroke="#000" stroke-width="0.8"/>
<path d="M1865.25,1174.30L1868.25,1180.20L1862.25,1180.20Z" fill="#ffa500" stroke="#000" stroke-width="0.8"/>
<path d="M1916.00,1197.70L1919.00,1203.60L1913.00,1203.60Z" fill="#ffa500" stroke="#000" stroke-width="0.8"/>
<path d="M1966.75,1188.30L1969.75,1194.20L1963.75,1194.20Z" fill="#ffa500" stroke="#000" stroke-width="0.8"/>
<path d="M2017.50,1235.30L2020.50,1241.20L2014.50,1241.20Z" fill="#ffa500" stroke="#000" stroke-width="0.8"/>
<polyline points="1611.50,1192.00 1662.25,1187.60 1713.00,1200.00 1763.75,1184.00 1814.50,1194.60 1865.25,1176.40 1916.00,1201.60 1966.75,1161.60 2017.50,1251.60" fill="none" stroke="#800080" stroke-width="1.3" stroke-linejoin="round"/>
<path d="M1611.50,1195.30L1614.50,1189.40L1608.50,1189.40Z" fill="#800080" stroke="#000" stroke-width="0.8"/>
<path d="M1662.25,1190.90L1665.25,1185.00L1659.25,1185.00Z" fill="#800080" stroke="#000" stroke-width="0.8"/>
<path d="M1713.00,1203.30L1716.00,1197.40L1710.00,1197.40Z" fill="#800080" stroke="#000" stroke-width="0.8"/>
<path d="M1763.75,1187.30L1766.75,1181.40L1760.75,1181.40Z" fill="#800080" stroke="#000" stroke-width="0.8"/>
<path d="M1814.50,1197.90L1817.50,1192.00L1811.50,1192.00Z" fill="#800080" stroke="#000" stroke-width="0.8"/>
<path d="M1865.25,1179.70L1868.25,1173.80L1862.25,1173.80Z" fill="#800080" stroke="#000" stroke-width="0.8"/>
<path d="M1916.00,1204.90L1919.00,1199.00L1913.00,1199.00Z" fill="#800080" stroke="#000" stroke-width="0.8"/>
<path d="M1966.75,1164.90L1969.75,1159.00L1963.75,1159.00Z" fill="#800080" stroke="#000" stroke-width="0.8"/>
<path d="M2017.50,1254.90L2020.50,1249.00L2014.50,1249.00Z" fill="#800080" stroke="#000" stroke-width="0.8"/>
</g>
<rect x="1611.50" y="1077.00" width="406.00" height="304.00" fill="none" stroke="#000" stroke-width="1"/>
<path d="M1662.25,1381.00v-3.2M1662.25,1077.00v3.2M1713.00,1381.00v-3.2M1713.00,1077.00v3.2M1763.75,1381.00v-3.2M1763.75,1077.00v3.2M1814.50,1381.00v-3.2M1814.50,1077.00v3.2M1865.25,1381.00v-3.2M1865.25,1077.00v3.2M1916.00,1381.00v-3.2M1916.00,1077.00v3.2M1966.75,1381.00v-3.2M1966.75,1077.00v3.2M1611.50,1330.33h3.2M2017.50,1330.33h-3.2M1611.50,1279.67h3.2M2017.50,1279.67h-3.2M1611.50,1229.00h3.2M2017.50,1229.00h-3.2M1611.50,1178.33h3.2M2017.50,1178.33h-3.2M1611.50,1127.67h3.2M2017.50,1127.67h-3.2" stroke="#000" stroke-width="1" fill="none"/>
<text x="1608.60" y="1386.50" class="tl" text-anchor="end">0.78</text>
<text x="1608.60" y="1335.83" class="tl" text-anchor="end">0.79</text>
<text x="1608.60" y="1285.17" class="tl" text-anchor="end">0.80</text>
<text x="1608.60" y="1234.50" class="tl" text-anchor="end">0.81</text>
<text x="1608.60" y="1183.83" class="tl" text-anchor="end">0.82</text>
<text x="1608.60" y="1133.17" class="tl" text-anchor="end">0.83</text>
<text x="1608.60" y="1082.50" class="tl" text-anchor="end">0.84</text>
<text x="1611.50" y="1399.00" class="tl" text-anchor="middle">0.1</text>
<text x="1662.25" y="1399.00" class="tl" text-anchor="middle">0.2</text>
<text x="1713.00" y="1399.00" class="tl" text-anchor="middle">0.3</text>
<text x="1763.75" y="1399.00" class="tl" text-anchor="middle">0.4</text>
<text x="1814.50" y="1399.00" class="tl" text-anchor="middle">0.5</text>
<text x="1865.25" y="1399.00" class="tl" text-anchor="middle">0.6</text>
<text x="1916.00" y="1399.00" class="tl" text-anchor="middle">0.7</text>
<text x="1966.75" y="1399.00" class="tl" text-anchor="middle">0.8</text>
<text x="2017.50" y="1399.00" class="tl" text-anchor="middle">0.9</text>
<text x="1600.60" y="1428.00" class="xl" textLength="428.9" lengthAdjust="spacingAndGlyphs">Fraction of Labeled Training Data</text>
<text transform="translate(1556.50,1229.00) rotate(-90)" class="yl" text-anchor="middle" textLength="67" lengthAdjust="spacingAndGlyphs">Score</text>
<path d="M1628.00,1244.60h37.7" stroke="#ff4d4d" stroke-width="1.4" fill="none"/>
<path d="M1646.85,1240.60L1649.35,1244.60L1646.85,1248.60L1644.35,1244.60Z" fill="#ff0000" stroke="#000" stroke-width="0.8"/>
<text x="1680.00" y="1251.20" class="lg">SDNE</text>
<path d="M1628.00,1271.85h37.7" stroke="#1a1aff" stroke-width="1.4" fill="none"/>
<path d="M1643.85,1271.85H1649.85M1646.85,1268.85V1274.85" stroke="#0000ff" stroke-width="1" fill="none"/>
<text x="1680.00" y="1278.45" class="lg">DeepWalk</text>
<path d="M1628.00,1299.10h37.7" stroke="#1a8a1a" stroke-width="1.4" fill="none"/>
<circle cx="1646.85" cy="1299.10" r="2.9" fill="#008000" stroke="#000" stroke-width="0.8"/>
<text x="1680.00" y="1305.70" class="lg">N2V-S</text>
<path d="M1628.00,1326.35h37.7" stroke="#ffbb44" stroke-width="1.4" fill="none"/>
<path d="M1646.85,1323.05L1649.85,1328.95L1643.85,1328.95Z" fill="#ffa500" stroke="#000" stroke-width="0.8"/>
<text x="1680.00" y="1332.95" class="lg">N2V-H</text>
<path d="M1628.00,1353.60h37.7" stroke="#a040a8" stroke-width="1.4" fill="none"/>
<path d="M1646.85,1356.90L1649.85,1351.00L1643.85,1351.00Z" fill="#800080" stroke="#000" stroke-width="0.8"/>
<text x="1680.00" y="1360.20" class="lg">PD</text>
<text x="1572.77" y="1505.20" class="capb" textLength="44.90" lengthAdjust="spacingAndGlyphs">(l)</text>
<text x="1634.08" y="1505.20" class="cap" textLength="356.13" lengthAdjust="spacingAndGlyphs">Micro Bitcoinotc</text>
</svg></body></html>
